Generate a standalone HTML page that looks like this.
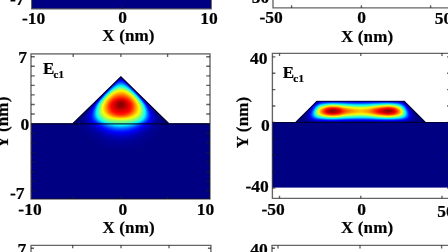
<!DOCTYPE html>
<html><head><meta charset="utf-8"><title>Ec1 wavefunction plots</title>
<style>html,body{margin:0;padding:0;background:#fff;overflow:hidden}svg{display:block}text{font-family:"Liberation Serif","Times New Roman",serif;font-weight:bold;fill:#000;stroke:#000;stroke-width:0.2px}</style></head><body>
<svg width="448" height="252" viewBox="0 0 448 252">
<defs>
<clipPath id="cT"><path d="M31.2,123.5H72.8L120.9,76.6L168.9,123.5H210.0V199.0H31.2Z"/></clipPath>
<clipPath id="cZ"><path d="M272.4,122.1H295.7L316.8,101H404.3L425.4,122.1H448V187.8H272.4Z"/></clipPath>
<filter id="bT" x="-5%" y="-5%" width="110%" height="110%"><feGaussianBlur stdDeviation="0.70"/></filter>
<filter id="bZ" x="-5%" y="-5%" width="110%" height="110%"><feGaussianBlur stdDeviation="0.60"/></filter>
<filter id="bX" x="-2%" y="-2%" width="104%" height="104%"><feGaussianBlur stdDeviation="0.3"/></filter>
</defs>
<rect width="448" height="252" fill="#fff"/>
<rect x="31.9" y="0" width="179.2" height="8.6" fill="#000083"/>
<g clip-path="url(#cT)">
<rect x="31" y="60" width="181" height="140" fill="#000083"/>
<g filter="url(#bT)">
<rect x="35" y="60" width="172" height="130" fill="#000083"/>
<path fill="#00008b" d="M124.5,150.0L121.5,150.2L118.5,150.1L115.0,149.8L112.0,149.3L109.0,148.6L106.0,147.7L103.5,146.8L100.5,145.4L98.5,144.3L96.0,142.8L93.5,141.0L91.0,139.1L89.5,137.8L87.5,135.9L81.2,129.5L79.6,128.0L77.9,126.5L78.0,126.0L78.1,125.5L78.4,125.0L78.9,124.5L79.8,124.0L81.2,123.5L80.7,123.0L80.6,122.0L80.8,121.0L81.3,119.5L81.7,118.5L82.6,117.0L83.7,115.5L85.1,113.5L90.7,106.5L92.0,105.0L114.0,83.1L116.0,81.3L117.5,80.0L120.0,77.7L120.5,77.4L121.0,77.3L122.0,77.8L123.0,78.7L132.0,87.5L133.0,88.3L135.0,90.2L143.4,98.5L150.3,105.5L151.0,106.5L152.7,108.5L156.3,113.0L157.8,115.0L159.2,117.0L160.3,119.0L160.7,120.0L161.0,121.0L161.2,122.0L161.1,123.0L160.6,123.5L162.0,124.0L162.9,124.5L163.4,125.0L163.7,125.5L163.8,126.0L163.9,126.5L161.1,129.0L155.0,135.2L152.0,138.0L150.0,139.7L148.0,141.3L146.0,142.7L144.0,143.9L141.5,145.3L139.5,146.2L137.0,147.3L134.5,148.1L132.0,148.8L129.5,149.4L127.0,149.8L124.5,150.0Z"/>
<path fill="#000091" d="M127.0,145.5L124.5,145.8L121.5,146.0L118.5,145.9L115.5,145.6L113.0,145.3L110.0,144.6L107.0,143.7L104.0,142.6L102.0,141.7L99.5,140.3L97.0,138.8L94.5,137.1L91.0,134.3L85.2,129.0L82.2,126.5L82.2,125.5L82.4,125.0L82.6,124.5L82.9,124.0L83.4,123.5L83.0,123.0L82.8,122.5L82.7,122.0L82.6,121.0L82.8,119.5L83.2,118.0L84.2,116.0L85.8,113.5L87.2,111.5L90.3,107.5L92.3,105.0L104.7,92.5L111.5,85.7L119.0,78.7L119.5,78.3L120.5,77.7L121.0,77.7L121.5,77.8L122.0,78.1L123.0,78.9L125.5,81.2L139.0,94.4L149.5,105.0L154.3,111.0L156.7,114.5L157.6,116.0L158.4,117.5L158.9,119.0L159.2,120.5L159.2,121.5L159.0,122.5L158.8,123.0L158.4,123.5L158.9,124.0L159.2,124.5L159.4,125.0L159.6,125.5L159.6,126.5L156.6,129.0L151.5,133.7L148.5,136.2L145.5,138.3L143.5,139.6L141.5,140.8L138.5,142.3L136.0,143.3L133.0,144.3L129.5,145.1L127.0,145.5Z"/>
<path fill="#000097" d="M125.0,143.5L122.0,143.7L118.5,143.6L115.0,143.3L112.0,142.8L108.5,141.9L105.5,140.8L103.0,139.7L100.0,138.2L97.0,136.3L94.0,134.2L91.5,132.1L87.2,128.5L84.7,126.5L84.6,125.0L84.7,124.0L85.0,123.5L84.5,123.0L84.1,122.0L83.9,121.5L83.8,120.5L83.9,119.0L84.3,117.5L84.9,116.0L85.7,114.5L86.9,112.5L88.3,110.5L90.1,108.0L92.5,105.0L103.8,93.5L111.5,85.9L117.0,80.7L118.5,79.3L120.0,78.2L120.5,78.0L121.0,78.0L121.5,78.1L122.5,78.7L124.5,80.4L126.0,81.7L139.0,94.5L149.3,105.0L153.1,110.0L154.9,112.5L155.8,114.0L156.6,115.5L157.3,117.0L157.8,118.5L158.0,120.0L158.0,121.0L157.7,122.0L157.3,123.0L156.8,123.5L157.0,124.0L157.2,125.0L157.1,126.5L154.0,129.0L149.5,132.8L146.5,135.1L144.0,136.8L141.5,138.3L139.0,139.6L136.5,140.7L133.5,141.8L130.5,142.6L127.5,143.2L125.0,143.5Z"/>
<path fill="#00009d" d="M123.5,142.0L120.5,142.1L117.5,142.0L115.0,141.7L112.0,141.2L109.0,140.4L106.0,139.4L103.5,138.3L100.5,136.8L98.0,135.2L95.0,133.2L86.5,126.5L86.2,125.0L86.1,123.5L85.7,123.0L85.1,122.0L84.8,121.0L84.7,120.0L84.7,119.0L85.0,117.5L85.5,116.0L86.2,114.5L87.3,112.5L88.6,110.5L90.8,107.5L92.7,105.0L98.0,99.5L105.3,92.0L109.5,87.9L115.5,82.1L117.5,80.3L119.0,79.1L120.0,78.4L120.5,78.3L121.0,78.2L121.5,78.3L122.0,78.5L123.0,79.2L125.0,80.9L127.0,82.8L133.9,89.5L139.4,95.0L145.3,101.0L149.1,105.0L152.8,110.0L154.2,112.0L155.3,114.0L156.1,115.5L156.6,117.0L156.9,118.0L157.1,119.5L157.1,120.5L156.9,121.5L156.4,122.5L156.1,123.0L155.7,123.5L155.6,125.0L155.3,126.5L152.7,128.5L148.0,132.3L144.5,134.8L142.0,136.3L139.5,137.7L137.0,138.9L134.5,139.8L131.5,140.7L129.0,141.3L126.5,141.7L123.5,142.0Z"/>
<path fill="#0000a3" d="M126.0,140.6L123.0,140.8L119.5,140.9L116.5,140.6L113.5,140.2L110.5,139.5L107.5,138.6L105.0,137.7L102.0,136.2L99.5,134.8L96.5,132.9L94.5,131.4L88.0,126.5L87.1,123.5L86.5,122.8L86.0,122.0L85.6,121.0L85.5,120.0L85.5,118.5L85.8,117.0L86.2,115.5L86.9,114.0L87.7,112.5L89.3,110.0L90.7,108.0L92.9,105.0L97.1,100.5L104.4,93.0L108.5,89.0L115.0,82.7L117.5,80.4L119.0,79.2L120.0,78.6L120.5,78.5L121.0,78.4L121.5,78.5L122.0,78.7L123.0,79.4L124.5,80.6L127.5,83.3L133.8,89.5L139.3,95.0L144.7,100.5L148.9,105.0L152.2,109.5L153.2,111.0L154.4,113.0L155.1,114.5L155.7,116.0L156.2,117.5L156.3,118.5L156.3,120.0L156.2,121.0L155.8,122.0L155.5,122.5L154.7,123.5L153.8,126.5L147.0,131.7L144.0,133.8L141.5,135.3L139.0,136.7L136.5,137.8L134.0,138.7L131.0,139.6L128.5,140.2L126.0,140.6Z"/>
<path fill="#0000aa" d="M126.0,139.5L123.0,139.8L120.0,139.9L117.0,139.7L114.0,139.3L111.0,138.6L108.0,137.8L105.5,136.8L103.0,135.7L100.5,134.3L98.0,132.8L95.0,130.7L89.2,126.5L88.0,123.5L87.1,122.5L86.5,121.5L86.2,120.5L86.1,119.5L86.1,118.5L86.3,117.0L86.7,115.5L87.6,113.5L88.6,111.5L89.9,109.5L91.2,107.5L93.1,105.0L96.8,101.0L102.6,95.0L107.5,90.0L113.0,84.7L116.0,81.8L118.0,80.1L119.5,79.0L120.0,78.8L120.5,78.6L121.0,78.6L121.5,78.7L122.5,79.2L124.0,80.3L127.0,82.9L132.8,88.5L138.8,94.5L144.1,100.0L148.7,105.0L151.6,109.0L152.9,111.0L153.7,112.5L154.7,114.5L155.3,116.0L155.6,117.5L155.7,118.5L155.7,120.0L155.4,121.0L155.3,121.5L154.7,122.5L153.8,123.5L152.6,126.5L146.0,131.3L144.0,132.7L141.5,134.2L139.0,135.6L136.5,136.7L134.0,137.7L131.5,138.5L128.5,139.1L126.0,139.5Z"/>
<path fill="#0000b0" d="M127.0,138.5L124.5,138.8L121.5,139.0L118.5,138.9L115.5,138.6L112.5,138.1L109.5,137.3L106.5,136.3L104.0,135.3L101.0,133.7L98.5,132.2L95.5,130.2L90.3,126.5L89.1,124.0L88.8,123.5L87.8,122.5L87.2,121.5L86.8,120.5L86.6,119.5L86.6,118.0L86.9,116.5L87.3,115.0L87.9,113.5L88.7,112.0L89.8,110.0L91.1,108.0L93.2,105.0L97.4,100.5L102.1,95.5L107.1,90.5L112.5,85.2L116.0,81.9L118.0,80.2L119.5,79.2L120.5,78.8L121.0,78.8L121.5,78.9L122.5,79.3L123.0,79.6L125.0,81.2L127.5,83.5L132.7,88.5L138.2,94.0L144.0,100.0L148.1,104.5L148.9,105.5L150.7,108.0L152.3,110.5L153.1,112.0L154.1,114.0L154.7,115.5L155.0,117.0L155.2,118.0L155.2,119.0L155.1,120.0L154.8,121.0L154.6,121.5L154.0,122.5L153.0,123.5L152.7,124.0L151.5,126.5L150.8,127.0L145.5,130.8L143.5,132.1L141.0,133.6L138.5,134.9L135.5,136.2L133.0,137.1L130.0,138.0L127.0,138.5Z"/>
<path fill="#0000b6" d="M125.0,138.0L122.0,138.2L119.0,138.2L116.0,137.9L113.5,137.6L110.5,136.9L108.0,136.1L105.5,135.1L102.5,133.7L100.0,132.3L98.0,131.1L91.3,126.5L89.9,124.0L89.5,123.5L88.5,122.5L87.8,121.5L87.4,120.5L87.2,120.0L87.1,119.0L87.1,118.0L87.3,116.5L87.7,115.0L88.2,113.5L89.2,111.5L90.4,109.5L91.7,107.5L93.4,105.0L96.5,101.5L102.2,95.5L107.1,90.5L112.5,85.2L115.5,82.4L118.0,80.3L119.5,79.3L120.0,79.1L120.5,79.0L121.0,79.0L121.5,79.0L122.0,79.2L123.0,79.7L125.0,81.3L127.5,83.5L132.6,88.5L138.1,94.0L143.9,100.0L148.0,104.5L148.8,105.5L150.8,108.5L151.7,110.0L152.8,112.0L153.5,113.5L154.1,115.0L154.5,116.5L154.7,118.0L154.7,119.0L154.5,120.0L154.2,121.0L154.0,121.5L153.3,122.5L152.3,123.5L151.9,124.0L150.5,126.5L145.0,130.3L142.5,131.9L140.0,133.4L137.5,134.6L135.0,135.7L133.0,136.4L130.0,137.2L127.5,137.7L125.0,138.0Z"/>
<path fill="#0000bc" d="M123.0,137.5L120.5,137.6L117.5,137.4L115.0,137.1L112.5,136.7L110.0,136.0L107.5,135.2L105.0,134.2L102.0,132.8L98.5,130.7L92.2,126.5L91.3,125.0L90.6,124.0L89.1,122.5L88.4,121.5L88.1,121.0L87.7,120.0L87.5,118.5L87.5,117.5L87.8,116.0L88.2,114.5L88.8,113.0L89.7,111.0L90.6,109.5L91.9,107.5L93.6,105.0L97.1,101.0L102.8,95.0L108.2,89.5L113.5,84.3L116.5,81.6L118.5,80.1L119.0,79.7L120.0,79.3L120.5,79.1L121.0,79.1L121.5,79.2L122.0,79.3L122.5,79.6L123.5,80.2L125.5,81.8L129.0,85.0L134.1,90.0L139.0,95.0L144.2,100.5L148.2,105.0L150.9,109.0L151.8,110.5L152.8,112.5L153.4,114.0L153.9,115.5L154.2,117.0L154.3,118.0L154.2,119.0L154.1,120.0L153.7,121.0L153.4,121.5L152.7,122.5L151.2,124.0L150.5,125.0L149.6,126.5L143.0,130.9L140.5,132.4L138.0,133.7L135.5,134.8L133.0,135.7L130.5,136.4L128.0,136.9L125.5,137.3L123.0,137.5Z"/>
<path fill="#0000c2" d="M126.5,136.6L123.5,136.9L120.5,137.0L117.5,136.8L115.0,136.5L112.5,136.1L109.5,135.3L106.5,134.2L104.0,133.1L102.0,132.1L99.5,130.7L93.0,126.5L92.0,125.0L91.2,124.0L89.6,122.5L88.9,121.5L88.6,121.0L88.2,120.0L87.9,118.5L88.0,117.0L88.2,115.5L88.7,114.0L89.3,112.5L90.3,110.5L91.1,109.0L92.4,107.0L93.7,105.0L97.2,101.0L102.4,95.5L107.3,90.5L112.0,85.8L115.0,83.0L117.5,80.9L119.0,79.8L120.0,79.4L120.5,79.3L121.0,79.2L121.5,79.3L122.5,79.7L123.0,80.0L124.5,81.0L127.0,83.2L131.5,87.5L136.5,92.5L142.3,98.5L146.4,103.0L148.1,105.0L148.8,106.0L150.7,109.0L151.8,111.0L152.5,112.5L153.1,114.0L153.6,115.5L153.8,117.0L153.9,118.0L153.8,119.0L153.6,120.0L153.2,121.0L152.6,122.0L152.2,122.5L151.1,123.5L150.2,124.5L148.8,126.5L144.5,129.3L142.0,130.9L139.5,132.3L137.5,133.3L135.0,134.3L132.0,135.4L129.0,136.1L126.5,136.6Z"/>
<path fill="#0000c8" d="M126.5,136.0L124.0,136.3L121.0,136.4L118.0,136.3L115.5,136.0L113.0,135.6L110.0,134.9L107.0,133.8L104.5,132.8L102.5,131.8L100.5,130.7L98.0,129.2L93.7,126.5L92.3,124.5L91.8,124.0L90.2,122.5L89.3,121.5L89.1,121.0L88.6,120.0L88.3,118.5L88.3,117.5L88.5,116.0L88.8,114.5L89.3,113.0L90.2,111.0L91.3,109.0L92.2,107.5L93.9,105.0L97.4,101.0L102.5,95.5L107.3,90.5L112.0,85.9L115.0,83.1L117.5,81.0L119.0,80.0L119.5,79.7L120.5,79.4L121.0,79.4L121.5,79.5L122.0,79.6L123.0,80.1L124.5,81.1L127.0,83.3L131.5,87.5L136.0,92.0L141.2,97.5L145.8,102.5L147.9,105.0L149.6,107.5L151.0,110.0L151.8,111.5L152.7,113.5L153.1,115.0L153.4,116.5L153.5,118.0L153.4,119.0L153.2,120.0L152.7,121.0L152.1,122.0L151.6,122.5L150.0,124.0L149.5,124.5L148.1,126.5L144.5,128.8L141.5,130.6L138.5,132.2L136.5,133.1L134.0,134.1L131.5,134.9L129.0,135.6L126.5,136.0Z"/>
<path fill="#0000ce" d="M126.5,135.5L124.0,135.8L121.0,135.9L118.0,135.8L115.5,135.5L113.0,135.1L110.0,134.3L107.0,133.3L104.5,132.3L102.5,131.3L100.5,130.2L94.5,126.5L92.9,124.5L92.4,124.0L90.6,122.5L89.8,121.5L89.2,120.5L89.0,120.0L88.7,118.5L88.7,117.0L88.9,115.5L89.2,114.0L89.8,112.5L90.7,110.5L91.8,108.5L93.7,105.5L94.4,104.5L97.9,100.5L103.0,95.0L107.4,90.5L112.0,85.9L115.5,82.7L117.5,81.1L119.0,80.1L120.0,79.7L120.5,79.6L121.0,79.5L121.5,79.6L122.0,79.7L123.0,80.2L124.5,81.2L127.0,83.3L130.9,87.0L135.4,91.5L140.7,97.0L145.2,102.0L147.8,105.0L149.7,108.0L150.8,110.0L151.8,112.0L152.4,113.5L152.8,115.0L153.1,116.5L153.1,118.0L153.0,119.0L152.8,120.0L152.3,121.0L151.6,122.0L151.2,122.5L149.4,124.0L148.9,124.5L147.3,126.5L143.5,128.9L141.0,130.4L138.5,131.7L136.5,132.6L134.0,133.6L131.5,134.4L129.0,135.1L126.5,135.5Z"/>
<path fill="#0000d4" d="M126.5,135.0L124.0,135.3L121.5,135.4L118.5,135.4L116.0,135.1L113.5,134.7L111.0,134.1L108.0,133.2L105.5,132.2L103.5,131.3L101.5,130.3L99.0,128.8L95.2,126.5L93.4,124.5L92.9,124.0L91.1,122.5L90.2,121.5L89.9,121.0L89.4,120.0L89.3,119.5L89.1,118.5L89.0,117.5L89.1,116.0L89.4,114.5L89.8,113.0L90.7,111.0L91.7,109.0L92.9,107.0L94.2,105.0L97.1,101.5L101.7,96.5L106.5,91.5L111.5,86.5L115.0,83.2L117.5,81.2L119.0,80.2L120.0,79.8L120.5,79.7L121.5,79.7L122.0,79.8L123.0,80.3L124.5,81.3L127.0,83.4L130.8,87.0L135.3,91.5L140.1,96.5L144.7,101.5L147.6,105.0L149.2,107.5L150.4,109.5L151.4,111.5L152.1,113.5L152.6,115.0L152.8,116.5L152.8,118.0L152.7,119.0L152.4,120.0L151.9,121.0L151.6,121.5L151.0,122.2L150.5,122.7L148.9,124.0L148.4,124.5L146.6,126.5L143.0,128.7L140.5,130.2L138.5,131.2L136.0,132.4L133.5,133.3L131.0,134.1L128.5,134.7L126.5,135.0Z"/>
<path fill="#0000da" d="M121.5,135.0L118.5,134.9L116.0,134.7L113.5,134.3L111.0,133.7L108.0,132.8L105.5,131.8L103.0,130.6L100.5,129.3L95.8,126.5L94.0,124.5L93.5,124.0L91.6,122.5L91.1,122.0L90.3,121.0L89.8,120.0L89.4,118.5L89.3,117.0L89.4,115.5L89.8,114.0L90.2,112.5L91.1,110.5L92.7,107.5L94.3,105.0L96.4,102.5L100.4,98.0L105.6,92.5L110.0,88.0L113.5,84.7L116.0,82.4L118.0,80.9L119.0,80.3L119.5,80.1L120.5,79.8L121.0,79.8L121.5,79.8L122.5,80.2L124.0,81.0L126.0,82.6L128.5,84.8L132.8,89.0L137.2,93.5L142.3,99.0L145.9,103.0L147.5,105.0L147.8,105.5L149.4,108.0L150.7,110.5L151.4,112.0L152.0,114.0L152.4,115.5L152.5,117.0L152.4,118.5L152.2,119.5L151.8,120.5L151.5,121.0L150.7,122.0L150.2,122.5L148.3,124.0L147.8,124.5L146.0,126.5L143.0,128.3L140.5,129.7L137.5,131.2L135.0,132.3L132.5,133.2L130.0,133.9L127.0,134.5L124.5,134.8L121.5,135.0Z"/>
<path fill="#0000e0" d="M123.5,134.5L121.0,134.6L118.0,134.5L115.5,134.2L113.0,133.8L110.5,133.1L108.0,132.3L105.5,131.4L103.0,130.2L100.5,128.9L96.4,126.5L94.5,124.5L93.9,124.0L92.0,122.5L91.0,121.5L90.4,120.5L90.1,120.0L89.8,119.0L89.6,117.5L89.6,116.0L89.9,114.5L90.3,113.0L90.9,111.5L91.8,109.5L93.2,107.0L94.4,105.0L95.6,103.5L98.7,100.0L103.7,94.5L108.1,90.0L112.0,86.1L115.5,82.9L117.5,81.3L119.0,80.4L120.0,80.0L120.5,79.9L121.0,79.9L122.0,80.1L122.5,80.3L123.5,80.8L125.0,81.9L127.5,84.0L131.2,87.5L135.7,92.0L140.9,97.5L144.9,102.0L147.4,105.0L149.2,108.0L150.3,110.0L151.1,112.0L151.7,113.5L152.0,115.0L152.2,116.5L152.2,118.0L152.0,119.0L151.7,120.0L151.0,121.2L150.3,122.0L149.8,122.5L147.9,124.0L146.8,125.0L145.4,126.5L145.0,126.7L141.5,128.7L138.5,130.3L136.5,131.3L134.0,132.3L131.5,133.1L129.0,133.7L126.0,134.3L123.5,134.5Z"/>
<path fill="#0000e7" d="M124.5,134.0L122.0,134.2L119.5,134.2L116.5,134.0L114.0,133.6L111.5,133.0L109.0,132.3L106.5,131.4L104.0,130.3L101.0,128.8L97.0,126.5L95.0,124.5L92.4,122.5L91.4,121.5L90.7,120.5L90.3,119.5L90.1,119.0L89.9,117.5L89.9,116.0L90.1,114.5L90.7,112.5L91.3,111.0L92.2,109.0L93.6,106.5L94.6,105.0L95.8,103.5L99.2,99.5L103.8,94.5L108.1,90.0L112.2,86.0L115.5,83.0L117.5,81.4L119.0,80.5L120.0,80.2L120.5,80.1L121.0,80.0L122.0,80.2L122.5,80.4L123.5,80.9L125.5,82.3L128.0,84.5L131.7,88.0L135.6,92.0L140.3,97.0L143.9,101.0L147.2,105.0L149.3,108.5L150.3,110.5L151.1,112.5L151.7,114.5L151.9,116.0L151.9,117.5L151.8,118.5L151.3,120.0L150.8,121.0L150.0,121.9L149.5,122.4L146.8,124.5L144.8,126.5L141.5,128.4L139.0,129.7L136.5,130.9L134.5,131.7L132.0,132.5L129.5,133.2L127.0,133.7L124.5,134.0Z"/>
<path fill="#0000ed" d="M125.5,133.6L123.0,133.8L120.0,133.8L117.5,133.7L115.0,133.4L112.5,132.9L110.0,132.2L107.0,131.2L104.5,130.1L101.5,128.7L97.6,126.5L95.5,124.5L92.5,122.3L91.5,121.2L90.8,120.0L90.4,119.0L90.2,117.5L90.1,116.0L90.3,114.5L90.7,113.0L91.2,111.5L92.1,109.5L93.2,107.5L94.7,105.0L95.9,103.5L99.3,99.5L103.9,94.5L108.2,90.0L112.3,86.0L115.0,83.5L117.5,81.5L119.0,80.6L120.0,80.3L120.5,80.2L121.0,80.2L122.0,80.3L122.5,80.5L123.5,81.0L125.5,82.4L127.5,84.1L130.6,87.0L134.6,91.0L139.3,96.0L143.4,100.5L145.1,102.5L147.1,105.0L148.9,108.0L149.9,110.0L150.7,112.0L151.3,114.0L151.6,115.5L151.7,117.0L151.5,118.5L151.2,119.5L151.0,120.0L150.4,121.0L149.6,122.0L149.0,122.5L146.3,124.5L144.2,126.5L142.0,127.7L139.0,129.3L137.0,130.3L134.5,131.3L132.0,132.2L130.0,132.7L127.5,133.3L125.5,133.6Z"/>
<path fill="#0000f3" d="M126.5,133.1L124.0,133.4L121.5,133.5L118.5,133.4L116.0,133.2L113.5,132.8L111.0,132.2L108.0,131.2L105.5,130.2L102.5,128.8L98.2,126.5L96.0,124.5L93.0,122.4L92.0,121.4L91.5,120.7L91.1,120.0L90.7,119.0L90.4,117.5L90.4,116.0L90.6,114.5L90.9,113.0L91.6,111.0L92.8,108.5L94.2,106.0L94.8,105.0L96.4,103.0L99.8,99.0L104.4,94.0L108.8,89.5L112.5,85.9L115.0,83.6L116.5,82.4L117.5,81.6L119.0,80.8L120.0,80.4L120.5,80.3L121.0,80.3L122.0,80.5L122.5,80.6L123.5,81.1L125.5,82.5L127.5,84.2L130.5,87.0L134.5,91.0L138.8,95.5L142.9,100.0L145.4,103.0L147.0,105.0L148.7,108.0L149.7,110.0L150.5,112.0L151.1,114.0L151.4,115.5L151.4,117.0L151.2,118.5L150.7,120.0L150.1,121.0L149.5,121.7L148.6,122.5L145.8,124.5L143.6,126.5L141.5,127.7L138.5,129.2L135.0,130.8L132.5,131.7L130.5,132.3L128.5,132.7L126.5,133.1Z"/>
<path fill="#0000f9" d="M124.0,133.0L121.5,133.2L119.0,133.1L116.0,132.9L113.5,132.4L110.5,131.7L108.0,130.9L105.5,129.9L103.0,128.7L98.7,126.5L96.4,124.5L93.5,122.5L92.9,122.0L92.0,121.0L91.4,120.0L91.2,119.5L90.9,118.5L90.6,117.0L90.7,115.5L90.9,114.0L91.4,112.0L92.2,110.0L93.2,108.0L94.9,105.0L96.9,102.5L100.4,98.5L105.0,93.5L109.3,89.0L113.0,85.4L115.5,83.2L117.5,81.7L119.0,80.9L120.0,80.5L120.5,80.4L121.5,80.5L122.0,80.6L123.0,81.0L123.5,81.2L124.5,81.9L125.5,82.6L127.5,84.3L130.5,87.0L134.4,91.0L138.7,95.5L142.8,100.0L145.3,103.0L146.9,105.0L148.3,107.5L149.6,110.0L150.4,112.0L150.9,114.0L151.1,115.5L151.2,117.0L150.9,118.5L150.6,119.5L150.4,120.0L149.8,121.0L149.4,121.5L148.5,122.3L145.4,124.5L143.1,126.5L140.0,128.1L137.5,129.4L135.5,130.2L133.0,131.2L131.0,131.8L128.5,132.4L126.5,132.8L124.0,133.0Z"/>
<path fill="#0000ff" d="M126.0,132.5L123.5,132.8L121.0,132.9L118.0,132.7L115.5,132.5L112.5,131.9L110.0,131.2L107.5,130.4L105.0,129.4L102.5,128.2L99.3,126.5L96.8,124.5L94.0,122.6L93.3,122.0L92.4,121.0L91.7,120.0L91.1,118.5L90.9,117.0L90.9,115.5L91.1,114.0L91.6,112.0L92.2,110.5L93.4,108.0L94.8,105.5L95.1,105.0L96.6,103.0L99.6,99.5L104.6,94.0L108.9,89.5L112.5,86.0L115.5,83.3L116.5,82.5L117.5,81.8L119.0,81.0L120.0,80.7L120.5,80.6L121.5,80.6L122.0,80.7L123.0,81.1L124.5,82.0L126.0,83.1L127.0,83.9L130.0,86.6L133.9,90.5L138.2,95.0L142.2,99.5L144.4,102.0L146.4,104.5L146.7,105.0L147.9,107.0L148.9,109.0L149.8,111.0L150.5,113.0L150.9,115.0L150.9,116.0L150.9,117.0L150.7,118.5L150.3,119.5L150.1,120.0L149.4,121.0L149.0,121.5L148.0,122.4L145.0,124.5L142.5,126.5L141.0,127.3L138.0,128.8L136.0,129.7L133.5,130.7L131.5,131.3L130.0,131.7L128.0,132.2L126.0,132.5Z"/>
<path fill="#0006ff" d="M122.5,132.5L120.0,132.5L117.0,132.4L114.0,131.9L111.5,131.4L109.0,130.6L106.5,129.7L104.0,128.6L101.0,127.2L99.8,126.5L97.3,124.5L94.2,122.5L93.1,121.5L92.3,120.5L91.8,119.5L91.3,118.0L91.1,116.5L91.1,115.0L91.4,113.5L92.0,111.5L92.8,109.5L93.7,107.5L95.2,105.0L97.9,101.5L101.4,97.5L106.1,92.5L110.0,88.5L113.5,85.1L116.0,83.0L118.0,81.6L119.0,81.1L119.5,80.9L120.5,80.7L121.0,80.7L121.5,80.7L122.5,81.0L124.0,81.7L126.0,83.2L128.5,85.3L132.0,88.7L135.7,92.5L140.4,97.5L143.9,101.5L146.6,105.0L147.8,107.0L148.8,109.0L149.7,111.0L150.3,113.0L150.6,114.5L150.7,116.0L150.6,117.5L150.4,118.5L150.2,119.0L149.8,120.0L149.1,121.0L148.5,121.7L147.6,122.5L144.5,124.5L142.0,126.5L139.5,127.8L136.5,129.2L134.0,130.2L132.0,130.9L129.5,131.5L127.0,132.1L125.0,132.3L122.5,132.5Z"/>
<path fill="#000cff" d="M125.0,132.0L122.5,132.2L120.0,132.3L117.5,132.1L115.0,131.8L112.5,131.3L110.0,130.6L107.5,129.8L105.0,128.8L102.5,127.6L100.3,126.5L97.7,124.5L95.0,122.8L93.9,122.0L93.0,121.0L92.3,120.0L91.6,118.5L91.3,117.0L91.3,115.5L91.6,113.5L92.1,111.5L92.7,110.0L93.6,108.0L95.3,105.0L97.2,102.5L100.2,99.0L104.7,94.0L109.0,89.5L112.5,86.1L115.5,83.5L117.5,82.0L119.0,81.2L119.5,81.0L120.5,80.8L121.0,80.8L122.0,81.0L122.5,81.1L123.5,81.6L125.0,82.5L127.5,84.5L130.5,87.3L133.7,90.5L137.5,94.5L141.6,99.0L143.8,101.5L145.8,104.0L146.5,105.0L147.4,106.5L148.7,109.0L149.7,111.5L150.2,113.5L150.5,115.0L150.5,116.0L150.4,117.0L150.2,118.5L149.8,119.5L149.5,120.0L148.8,121.0L148.0,121.9L147.2,122.5L144.1,124.5L141.5,126.5L140.0,127.3L137.0,128.7L134.5,129.7L133.0,130.3L131.0,130.9L129.0,131.4L127.0,131.8L125.0,132.0Z"/>
<path fill="#0012ff" d="M126.5,131.6L124.0,131.9L121.5,132.0L118.5,131.9L116.0,131.7L113.5,131.2L111.0,130.6L108.0,129.7L105.5,128.7L102.5,127.4L100.8,126.5L98.1,124.5L95.0,122.6L94.2,122.0L93.2,121.0L92.5,119.9L91.9,118.5L91.6,117.0L91.5,115.5L91.7,114.0L92.1,112.0L92.6,110.5L93.7,108.0L95.1,105.5L95.8,104.5L97.3,102.5L100.7,98.5L104.8,94.0L109.0,89.6L112.5,86.2L115.0,84.0L116.5,82.8L117.5,82.1L119.0,81.4L120.0,81.0L120.5,81.0L121.0,80.9L122.0,81.1L122.5,81.2L123.5,81.7L125.0,82.6L127.0,84.2L130.0,86.9L133.0,89.8L136.5,93.5L140.7,98.0L144.1,102.0L145.7,104.0L146.7,105.5L148.3,108.5L149.2,110.5L149.8,112.5L150.2,114.5L150.3,116.0L150.2,117.0L150.0,118.0L149.7,119.0L149.3,120.0L148.6,121.0L147.6,122.0L146.9,122.5L143.7,124.5L141.0,126.5L137.5,128.2L135.0,129.2L132.0,130.3L129.0,131.1L126.5,131.6Z"/>
<path fill="#0018ff" d="M124.5,131.5L122.0,131.7L119.5,131.7L116.5,131.5L114.0,131.1L111.5,130.5L109.0,129.8L106.0,128.7L103.0,127.3L101.3,126.5L98.5,124.5L95.2,122.5L94.0,121.5L93.1,120.5L92.8,120.0L92.3,119.0L92.0,118.0L91.7,116.5L91.7,115.0L91.9,113.5L92.3,112.0L93.2,109.5L94.1,107.5L95.5,105.0L97.8,102.0L101.2,98.0L105.3,93.5L109.0,89.7L112.5,86.3L115.0,84.1L117.0,82.6L118.0,82.0L119.0,81.5L120.0,81.2L120.5,81.1L121.0,81.1L122.0,81.2L122.5,81.4L123.5,81.8L124.5,82.4L125.5,83.1L127.5,84.7L130.5,87.4L134.0,90.9L138.3,95.5L141.9,99.5L145.2,103.5L146.3,105.0L147.2,106.5L148.2,108.5L149.2,111.0L149.8,113.0L150.1,115.0L150.1,116.0L150.0,117.0L149.7,118.5L149.3,119.5L149.0,120.0L148.3,121.0L147.5,121.8L146.6,122.5L143.3,124.5L140.5,126.5L136.5,128.4L134.5,129.2L132.5,129.9L130.5,130.5L128.5,130.9L126.5,131.3L124.5,131.5Z"/>
<path fill="#001eff" d="M126.5,131.0L124.0,131.3L121.5,131.5L119.0,131.4L116.5,131.2L114.0,130.8L111.5,130.3L108.5,129.3L106.0,128.4L103.5,127.3L101.8,126.5L98.9,124.5L96.0,122.8L94.8,122.0L93.8,121.0L93.0,119.9L92.4,118.5L92.0,117.0L91.9,115.5L92.1,113.5L92.6,111.5L93.1,110.0L94.2,107.5L95.6,105.0L97.9,102.0L101.3,98.0L105.4,93.5L109.0,89.8L112.5,86.4L115.0,84.2L117.0,82.7L118.0,82.1L119.0,81.6L120.0,81.3L120.5,81.2L121.0,81.2L122.0,81.3L122.5,81.5L123.5,81.9L125.0,82.8L127.0,84.3L129.5,86.5L132.5,89.5L136.0,93.1L139.6,97.0L143.1,101.0L144.7,103.0L146.2,105.0L147.8,108.0L148.7,110.0L149.4,112.0L149.8,114.0L149.9,115.5L149.9,116.5L149.6,118.0L149.3,119.0L148.7,120.0L148.0,121.0L147.5,121.5L146.5,122.3L142.9,124.5L140.0,126.5L137.5,127.7L135.0,128.7L132.0,129.8L129.0,130.6L126.5,131.0Z"/>
<path fill="#0021ff" d="M126.0,131.0L123.5,131.3L120.5,131.4L118.0,131.3L115.5,131.0L112.5,130.4L110.0,129.7L107.5,128.9L105.0,127.9L101.9,126.5L99.0,124.5L95.6,122.5L94.5,121.6L93.5,120.5L92.9,119.5L92.3,118.0L92.0,116.5L92.0,115.0L92.2,113.0L92.8,111.0L93.4,109.5L94.3,107.5L95.6,105.0L96.7,103.5L98.3,101.5L101.8,97.5L105.9,93.0L109.5,89.3L113.0,85.9L115.5,83.8L117.5,82.4L119.0,81.6L120.0,81.3L120.5,81.3L121.0,81.3L122.0,81.4L122.5,81.5L123.5,82.0L124.5,82.5L125.5,83.2L127.5,84.8L130.5,87.5L133.5,90.5L137.8,95.0L141.4,99.0L144.7,103.0L146.2,105.0L146.7,106.0L147.8,108.0L148.8,110.5L149.4,112.5L149.8,114.5L149.8,116.0L149.7,117.0L149.5,118.0L149.2,119.0L148.7,120.0L147.9,121.0L147.0,121.9L146.2,122.5L142.8,124.5L139.9,126.5L137.0,127.8L134.5,128.8L131.5,129.8L128.5,130.6L126.0,131.0Z"/>
<path fill="#0036ff" d="M122.5,130.5L120.0,130.5L117.5,130.4L115.5,130.2L113.0,129.7L111.0,129.2L108.5,128.4L106.5,127.7L103.6,126.5L99.5,124.0L96.7,122.5L95.5,121.6L94.8,121.0L94.0,120.0L93.7,119.5L93.2,118.5L92.7,117.0L92.6,115.5L92.6,114.0L93.0,112.0L93.6,110.0L94.4,108.0L96.0,105.0L97.8,102.5L99.4,100.5L102.9,96.5L106.5,92.6L110.0,89.1L113.0,86.2L115.5,84.1L117.5,82.8L119.0,82.1L120.0,81.8L120.5,81.7L121.0,81.7L122.0,81.8L122.5,82.0L123.5,82.4L124.5,82.9L125.5,83.6L127.5,85.1L130.0,87.3L133.0,90.3L136.6,94.0L140.7,98.5L142.8,101.0L144.4,103.0L145.8,105.0L146.4,106.0L147.6,108.5L148.4,110.5L148.9,112.5L149.2,114.5L149.2,116.0L149.1,117.0L148.8,118.0L148.4,119.0L147.8,120.0L147.0,121.0L146.0,121.9L145.1,122.5L142.3,124.0L138.2,126.5L136.5,127.2L134.0,128.2L131.0,129.1L128.5,129.8L125.5,130.3L122.5,130.5Z"/>
<path fill="#004cff" d="M125.5,129.5L123.0,129.7L120.5,129.8L118.0,129.7L115.5,129.4L113.0,128.9L110.5,128.3L108.5,127.7L105.5,126.6L104.0,125.9L100.6,124.0L98.0,122.7L96.9,122.0L96.0,121.3L95.0,120.3L94.1,119.0L93.5,117.5L93.2,116.0L93.1,114.5L93.3,112.5L93.7,111.0L94.3,109.0L95.2,107.0L96.2,105.0L97.3,103.5L98.8,101.5L101.8,98.0L106.0,93.4L110.0,89.3L113.0,86.5L115.0,84.9L117.0,83.5L118.0,82.9L119.0,82.5L120.0,82.2L120.5,82.2L121.0,82.2L122.0,82.3L123.5,82.8L125.0,83.6L127.0,85.0L129.5,87.1L132.0,89.5L135.5,93.1L139.1,97.0L142.6,101.0L144.1,103.0L145.5,105.0L146.8,107.5L147.6,109.5L148.3,111.5L148.6,113.5L148.7,115.0L148.6,116.0L148.3,117.5L147.9,118.5L147.4,119.5L146.6,120.5L146.0,121.2L144.9,122.0L144.0,122.6L141.2,124.0L138.0,125.8L136.5,126.5L135.5,126.9L133.0,127.8L130.0,128.7L127.5,129.2L125.5,129.5Z"/>
<path fill="#0061ff" d="M123.5,129.0L121.5,129.1L119.0,129.1L116.5,128.9L114.5,128.6L112.5,128.1L109.5,127.3L107.0,126.5L105.0,125.6L98.6,122.5L97.5,121.9L96.4,121.0L95.4,120.0L95.0,119.4L94.5,118.5L93.9,117.0L93.7,116.0L93.6,115.0L93.6,113.5L93.9,111.5L94.5,109.5L95.3,107.5L96.3,105.5L96.9,104.5L98.3,102.5L100.3,100.0L103.4,96.5L107.0,92.6L110.5,89.1L113.0,86.8L115.0,85.2L117.0,83.8L118.0,83.3L119.0,82.9L120.0,82.7L120.5,82.6L121.0,82.6L122.0,82.7L123.5,83.2L124.5,83.7L125.5,84.3L127.5,85.7L130.0,87.9L132.5,90.3L136.0,93.9L139.4,97.5L142.7,101.5L144.3,103.5L145.3,105.0L146.3,107.0L147.3,109.5L147.9,111.5L148.2,113.5L148.2,115.0L148.1,116.0L147.7,117.5L147.3,118.5L146.7,119.5L145.9,120.5L145.0,121.3L144.1,122.0L143.0,122.6L140.1,124.0L137.5,125.3L135.5,126.2L134.0,126.8L131.0,127.7L128.5,128.3L126.0,128.8L123.5,129.0Z"/>
<path fill="#0077ff" d="M126.5,128.1L124.5,128.3L122.0,128.5L119.5,128.5L117.0,128.3L114.5,127.9L112.0,127.4L109.5,126.7L107.0,125.9L105.5,125.2L99.5,122.5L98.0,121.7L97.1,121.0L96.0,119.9L95.5,119.2L95.1,118.5L94.4,117.0L94.1,115.5L94.0,114.0L94.2,112.0L94.7,110.0L95.2,108.5L95.8,107.0L96.8,105.0L98.2,103.0L99.7,101.0L102.7,97.5L106.0,93.9L109.5,90.4L112.5,87.6L114.5,85.9L116.5,84.5L117.5,84.0L118.5,83.5L120.0,83.1L121.0,83.0L121.5,83.1L123.0,83.4L124.5,84.1L126.0,85.0L128.0,86.5L130.5,88.7L133.5,91.5L136.5,94.6L139.1,97.5L141.7,100.5L143.6,103.0L145.0,105.0L146.0,107.0L146.8,109.0L147.4,111.0L147.7,112.5L147.8,114.0L147.7,115.0L147.5,116.5L147.2,117.5L146.7,118.5L146.0,119.6L145.2,120.5L144.0,121.5L143.0,122.2L142.0,122.7L136.5,125.1L134.0,126.2L132.5,126.7L130.5,127.2L128.5,127.7L126.5,128.1Z"/>
<path fill="#008dff" d="M126.0,127.6L124.0,127.8L121.5,127.9L119.0,127.9L116.5,127.6L114.0,127.3L111.5,126.7L109.5,126.2L107.0,125.3L100.3,122.5L99.0,121.8L97.8,121.0L96.7,120.0L96.3,119.5L95.6,118.5L94.9,117.0L94.6,115.5L94.4,114.0L94.6,112.0L94.9,110.5L95.5,108.5L96.3,106.5L97.1,105.0L98.4,103.0L99.9,101.0L102.9,97.5L106.0,94.1L109.5,90.6L112.5,87.9L114.5,86.3L116.5,84.9L117.5,84.4L118.5,83.9L120.0,83.6L121.5,83.5L123.0,83.8L124.5,84.5L126.0,85.3L128.0,86.8L130.5,88.9L133.0,91.3L136.0,94.3L138.9,97.5L141.1,100.0L143.0,102.5L144.4,104.5L145.2,106.0L146.3,108.5L146.9,110.5L147.2,112.0L147.4,113.5L147.3,115.0L147.0,116.5L146.7,117.5L146.2,118.5L145.5,119.5L144.6,120.5L143.5,121.4L142.5,122.0L141.0,122.7L136.0,124.8L133.5,125.8L132.0,126.2L130.0,126.8L128.0,127.2L126.0,127.6Z"/>
<path fill="#00a2ff" d="M126.0,127.0L123.5,127.3L120.5,127.4L118.0,127.3L115.0,126.9L112.0,126.3L109.5,125.6L107.0,124.8L103.0,123.3L101.1,122.5L99.5,121.7L98.5,121.0L97.4,120.0L96.5,119.0L96.0,118.2L95.6,117.5L95.2,116.5L94.9,115.0L94.8,113.5L95.0,111.5L95.4,110.0L96.0,108.0L96.6,106.5L97.3,105.0L98.6,103.0L100.5,100.5L103.5,97.0L106.5,93.8L109.5,90.9L112.5,88.2L114.5,86.6L116.5,85.3L117.5,84.8L118.5,84.4L120.0,84.0L121.5,84.0L123.0,84.3L124.5,84.9L126.5,86.0L128.5,87.5L130.5,89.2L133.0,91.5L136.0,94.6L138.7,97.5L140.9,100.0L142.8,102.5L144.2,104.5L145.0,106.0L146.0,108.5L146.6,110.5L146.8,112.0L147.0,113.5L146.9,114.5L146.7,116.0L146.4,117.0L145.9,118.0L145.3,119.0L144.4,120.0L143.3,121.0L142.0,121.8L140.7,122.5L137.5,123.8L133.5,125.2L131.5,125.9L129.5,126.4L127.5,126.8L126.0,127.0Z"/>
<path fill="#00b8ff" d="M126.0,126.5L123.5,126.8L120.5,126.9L117.5,126.7L115.0,126.4L112.0,125.8L109.5,125.1L107.0,124.3L102.5,122.7L100.9,122.0L99.5,121.2L98.5,120.5L97.5,119.5L96.7,118.5L96.1,117.5L95.7,116.5L95.4,115.0L95.2,113.5L95.4,111.5L95.8,109.5L96.5,107.5L97.3,105.5L97.9,104.5L99.2,102.5L100.7,100.5L103.0,97.8L106.0,94.6L109.0,91.6L112.0,88.9L114.5,86.9L116.5,85.7L117.5,85.2L118.5,84.8L120.0,84.4L121.5,84.4L123.0,84.7L124.5,85.3L126.5,86.4L128.5,87.8L130.5,89.5L133.0,91.8L135.5,94.3L138.1,97.0L140.2,99.5L142.2,102.0L143.6,104.0L144.5,105.5L145.5,108.0L146.1,110.0L146.4,111.5L146.6,113.0L146.5,114.5L146.2,116.0L145.9,117.0L145.4,118.0L144.7,119.0L143.8,120.0L142.6,121.0L141.5,121.7L139.8,122.5L136.5,123.7L133.5,124.8L130.0,125.7L128.0,126.2L126.0,126.5Z"/>
<path fill="#00cdff" d="M126.0,126.0L123.0,126.3L120.5,126.4L118.0,126.3L115.0,125.9L112.0,125.3L109.5,124.7L106.0,123.6L102.8,122.5L101.5,121.9L100.0,121.1L99.0,120.3L98.0,119.4L97.0,118.1L96.4,117.0L96.0,115.9L95.7,114.5L95.6,113.0L95.8,111.0L96.3,109.0L97.0,107.0L97.8,105.0L98.4,104.0L99.8,102.0L101.4,100.0L104.0,96.9L107.0,93.8L110.0,90.9L112.5,88.8L114.5,87.3L116.5,86.1L117.5,85.6L118.5,85.2L120.0,84.9L121.5,84.8L123.0,85.1L124.5,85.7L126.5,86.8L128.5,88.2L130.5,89.8L133.0,92.0L135.5,94.5L138.0,97.2L140.0,99.5L142.0,102.0L143.5,104.2L144.0,105.1L145.0,107.5L145.7,109.5L146.1,111.5L146.2,113.0L146.1,114.0L145.9,115.5L145.6,116.5L145.2,117.5L144.5,118.6L143.7,119.5L142.5,120.6L141.1,121.5L140.0,122.1L138.5,122.7L135.5,123.7L132.5,124.6L130.5,125.1L128.0,125.7L126.0,126.0Z"/>
<path fill="#00e3ff" d="M126.0,125.5L123.5,125.8L121.0,125.9L118.5,125.8L115.5,125.5L113.0,125.1L110.0,124.4L107.0,123.6L103.7,122.5L102.0,121.8L100.6,121.0L99.5,120.2L98.5,119.3L97.5,118.1L96.9,117.0L96.5,116.0L96.1,114.5L96.0,113.0L96.2,111.0L96.5,109.5L97.1,107.5L97.9,105.5L98.4,104.5L100.0,102.1L101.5,100.1L104.0,97.2L106.5,94.6L109.5,91.7L112.0,89.5L114.0,88.0L116.0,86.7L117.0,86.2L118.0,85.8L119.5,85.4L121.0,85.2L122.5,85.4L124.0,85.9L125.5,86.5L127.5,87.8L129.5,89.3L131.5,90.9L134.0,93.3L136.5,95.8L138.5,98.0L141.0,101.0L142.5,103.1L143.7,105.0L144.3,106.5L145.1,108.5L145.5,110.5L145.7,112.0L145.8,113.5L145.6,115.0L145.3,116.0L144.6,117.5L144.0,118.5L143.1,119.5L142.0,120.5L140.5,121.4L139.3,122.0L138.0,122.5L135.5,123.4L132.5,124.2L130.5,124.7L128.0,125.2L126.0,125.5Z"/>
<path fill="#00f9ff" d="M126.5,125.0L124.0,125.3L121.5,125.4L119.0,125.4L116.5,125.2L114.0,124.8L111.0,124.2L108.0,123.5L104.7,122.5L103.0,121.8L101.4,121.0L100.0,120.1L99.0,119.2L98.0,118.0L97.4,117.0L97.0,116.0L96.6,114.5L96.5,113.0L96.5,112.0L96.6,111.0L97.0,109.0L97.5,107.2L98.4,105.0L99.0,104.0L100.0,102.5L101.5,100.4L104.0,97.5L106.5,94.8L109.0,92.4L111.5,90.2L114.0,88.3L116.0,87.1L117.0,86.6L118.0,86.2L119.5,85.8L121.0,85.7L122.5,85.8L124.0,86.2L125.5,86.9L127.0,87.8L129.0,89.2L131.0,90.8L133.5,93.0L136.0,95.5L138.5,98.3L140.0,100.1L142.0,102.8L143.0,104.3L143.6,105.5L144.5,107.8L145.1,110.0L145.3,111.5L145.3,113.0L145.2,114.5L145.0,115.5L144.5,116.7L143.8,118.0L143.0,119.0L141.9,120.0L140.5,121.0L139.5,121.5L138.4,122.0L137.0,122.5L133.9,123.5L131.5,124.1L129.0,124.6L126.5,125.0Z"/>
<path fill="#0ffff0" d="M127.0,124.5L124.0,124.8L121.5,125.0L119.0,124.9L116.5,124.7L113.5,124.3L110.5,123.8L109.2,123.5L105.7,122.5L104.3,122.0L102.2,121.0L101.0,120.3L100.0,119.5L99.0,118.4L98.0,117.0L97.5,115.9L97.1,114.5L96.9,113.0L97.0,111.0L97.2,109.5L97.8,107.5L98.5,105.5L99.0,104.5L100.3,102.5L101.7,100.5L104.0,97.8L106.5,95.1L109.0,92.7L111.5,90.5L113.5,89.0L115.5,87.7L116.5,87.2L117.5,86.7L119.0,86.3L120.5,86.1L122.0,86.1L123.5,86.5L125.0,87.0L126.5,87.8L128.5,89.1L130.5,90.7L132.5,92.4L135.0,94.8L137.5,97.4L139.5,99.8L141.2,102.0L142.2,103.5L143.1,105.0L144.0,107.4L144.6,109.5L144.8,111.0L144.9,112.5L144.8,114.0L144.5,115.3L144.0,116.5L143.5,117.5L142.7,118.5L141.8,119.5L140.5,120.5L139.5,121.1L137.5,122.0L136.1,122.5L132.0,123.6L129.0,124.2L127.0,124.5Z"/>
<path fill="#25ffda" d="M122.5,124.5L120.0,124.5L117.5,124.4L115.0,124.2L112.0,123.7L110.8,123.5L106.9,122.5L105.4,122.0L104.0,121.4L102.2,120.5L101.0,119.6L99.8,118.5L99.0,117.5L98.4,116.5L97.8,115.0L97.5,114.0L97.4,112.5L97.4,111.0L97.7,109.0L98.3,107.0L99.1,105.0L99.9,103.5L101.3,101.5L102.8,99.5L104.5,97.5L106.9,95.0L109.0,93.0L111.5,90.8L113.5,89.3L115.5,88.0L117.0,87.3L118.0,86.9L119.0,86.7L120.5,86.5L122.0,86.5L123.5,86.8L125.0,87.4L127.0,88.5L129.0,89.8L131.0,91.4L133.5,93.6L135.9,96.0L138.2,98.5L139.8,100.5L141.2,102.5L142.5,104.5L143.1,106.0L143.8,108.0L144.3,110.0L144.4,111.5L144.4,113.0L144.3,114.0L143.8,115.5L143.4,116.5L142.8,117.5L142.0,118.5L141.0,119.5L139.6,120.5L137.6,121.5L136.4,122.0L134.9,122.5L131.0,123.5L129.0,123.9L126.5,124.2L124.5,124.4L122.5,124.5Z"/>
<path fill="#3affc5" d="M124.0,124.0L121.5,124.1L119.0,124.1L116.0,123.9L113.5,123.6L112.7,123.5L108.4,122.5L106.8,122.0L105.4,121.5L104.0,120.9L102.4,120.0L101.1,119.0L100.1,118.0L99.3,117.0L98.6,115.5L98.2,114.5L97.9,113.0L97.9,111.5L98.1,109.5L98.5,107.5L99.4,105.0L100.3,103.5L101.2,102.0L102.3,100.5L103.9,98.5L106.2,96.0L108.5,93.7L111.0,91.5L113.0,90.0L115.0,88.7L116.5,87.9L117.5,87.5L118.5,87.1L120.0,86.9L121.5,86.8L123.0,87.1L124.5,87.5L126.5,88.5L128.5,89.8L130.5,91.3L132.5,93.0L134.5,94.9L136.5,97.0L138.7,99.5L140.2,101.5L141.5,103.5L142.4,105.0L143.0,106.5L143.5,108.5L143.9,110.5L143.9,112.0L143.8,113.5L143.5,114.8L143.0,116.0L142.5,117.0L141.7,118.0L140.7,119.0L139.5,119.9L138.0,120.8L136.5,121.5L135.0,122.0L133.4,122.5L129.1,123.5L126.5,123.8L124.0,124.0Z"/>
<path fill="#50ffaf" d="M126.0,123.5L123.5,123.7L121.0,123.7L118.5,123.7L115.7,123.5L110.4,122.5L108.4,122.0L106.8,121.5L105.0,120.8L103.5,120.0L102.0,119.0L101.0,118.1L100.1,117.0L99.4,116.0L99.0,115.0L98.5,113.5L98.3,112.0L98.3,111.0L98.4,110.0L98.7,108.5L99.2,106.5L99.8,105.0L100.6,103.5L101.5,102.0L103.0,100.0L105.0,97.6L107.0,95.5L109.1,93.5L111.5,91.4L113.5,90.0L115.5,88.7L117.5,87.8L119.0,87.4L120.5,87.2L122.0,87.3L123.5,87.6L125.0,88.1L126.5,88.8L128.5,90.1L130.5,91.6L132.2,93.0L134.5,95.2L136.5,97.3L138.4,99.5L139.9,101.5L141.2,103.5L142.0,105.0L142.7,107.0L143.2,109.0L143.4,110.5L143.5,112.0L143.3,113.5L143.0,114.5L142.5,115.7L141.7,117.0L140.9,118.0L140.0,118.8L139.0,119.6L137.5,120.4L136.3,121.0L135.0,121.5L133.4,122.0L131.4,122.5L126.0,123.5Z"/>
<path fill="#66ff99" d="M123.5,123.0L121.0,123.1L119.0,123.1L116.5,122.9L113.4,122.5L110.7,122.0L108.7,121.5L107.0,121.0L105.5,120.4L104.0,119.6L103.0,119.0L101.8,118.0L100.8,117.0L100.1,116.0L99.5,114.8L99.1,113.5L98.9,112.0L98.8,110.5L99.1,108.5L99.4,107.0L100.1,105.0L100.9,103.5L102.2,101.5L103.3,100.0L105.0,98.0L107.0,95.8L109.0,93.9L111.0,92.1L113.0,90.6L115.0,89.4L116.5,88.6L117.5,88.2L118.5,87.9L120.0,87.6L121.5,87.6L123.0,87.8L124.5,88.3L126.5,89.2L128.0,90.1L130.0,91.5L132.0,93.2L134.0,95.0L135.9,97.0L137.7,99.0L139.2,101.0L140.6,103.0L141.7,105.0L142.0,106.0L142.6,108.0L142.9,110.0L143.0,111.5L142.8,113.0L142.5,114.2L142.0,115.4L141.4,116.5L140.5,117.5L139.5,118.5L138.5,119.2L137.1,120.0L136.0,120.5L134.5,121.1L132.5,121.7L131.0,122.0L128.4,122.5L126.0,122.8L123.5,123.0Z"/>
<path fill="#7bff84" d="M126.5,122.0L124.0,122.2L121.0,122.2L118.0,122.2L115.5,122.0L113.0,121.7L111.0,121.4L109.0,121.0L107.5,120.5L106.0,119.9L104.5,119.2L103.4,118.5L102.1,117.5L101.2,116.5L100.5,115.5L100.0,114.5L99.5,113.0L99.3,111.5L99.3,110.0L99.5,108.5L100.0,106.5L100.5,105.0L101.3,103.5L102.5,101.6L103.6,100.0L105.5,97.8L107.5,95.6L109.5,93.8L111.5,92.1L113.5,90.6L115.0,89.7L117.0,88.7L118.5,88.3L120.0,88.0L121.5,88.0L123.0,88.2L124.5,88.6L126.0,89.3L127.5,90.1L129.0,91.1L131.0,92.6L133.0,94.4L135.0,96.4L136.9,98.5L138.5,100.5L139.9,102.5L141.1,104.5L141.5,105.5L142.1,107.5L142.4,109.0L142.5,110.5L142.4,112.0L142.3,113.0L141.8,114.5L141.3,115.5L140.6,116.5L139.7,117.5L138.5,118.5L137.5,119.1L136.0,119.9L134.5,120.4L133.0,120.9L131.0,121.4L129.0,121.7L126.5,122.0Z"/>
<path fill="#91ff6e" d="M129.0,121.0L127.0,121.2L124.5,121.3L121.0,121.4L117.5,121.3L113.5,121.1L111.5,120.8L109.5,120.4L108.0,120.0L106.5,119.5L105.0,118.8L103.7,118.0L102.5,117.0L101.6,116.0L100.9,115.0L100.4,114.0L100.0,112.5L99.8,111.0L99.8,109.5L100.0,108.0L100.4,106.5L100.9,105.0L101.6,103.5L102.6,102.0L104.0,100.0L105.6,98.0L107.5,96.0L109.5,94.1L111.5,92.4L113.5,91.0L115.5,89.8L117.0,89.1L118.5,88.6L120.0,88.4L121.0,88.3L122.5,88.5L124.0,88.8L125.5,89.4L127.0,90.2L128.5,91.1L130.5,92.6L132.2,94.0L134.0,95.7L136.0,97.8L137.4,99.5L138.9,101.5L140.2,103.5L140.9,105.0L141.4,106.5L141.8,108.0L142.0,109.5L142.0,111.0L141.8,112.5L141.5,113.6L141.0,114.7L140.2,116.0L139.5,116.8L138.5,117.7L137.3,118.5L136.0,119.2L134.5,119.8L133.0,120.3L131.0,120.7L129.0,121.0Z"/>
<path fill="#a6ff59" d="M128.0,120.5L125.5,120.7L123.0,120.8L120.0,120.8L117.0,120.7L115.0,120.6L112.5,120.4L111.0,120.1L109.0,119.7L107.5,119.2L106.0,118.6L104.5,117.8L103.5,117.0L102.5,116.1L101.7,115.0L101.1,114.0L100.7,113.0L100.4,111.5L100.3,110.0L100.4,108.5L100.7,107.0L101.1,105.5L101.5,104.5L102.5,102.7L103.6,101.0L105.1,99.0L106.9,97.0L108.5,95.4L110.5,93.6L112.5,92.0L114.0,91.0L116.0,89.9L117.5,89.3L119.0,88.9L120.5,88.7L121.5,88.7L123.0,88.9L124.5,89.4L126.0,90.0L127.5,90.8L129.0,91.8L131.0,93.3L132.9,95.0L134.5,96.6L136.3,98.5L137.5,100.0L138.9,102.0L140.1,104.0L140.7,105.5L141.1,107.0L141.4,108.5L141.5,110.0L141.4,111.5L141.1,113.0L140.7,114.0L140.1,115.0L139.5,115.9L138.5,116.9L137.5,117.6L136.5,118.2L135.0,119.0L133.5,119.5L132.0,119.9L130.0,120.3L128.0,120.5Z"/>
<path fill="#bcff43" d="M127.5,120.1L125.0,120.2L122.5,120.3L119.5,120.3L117.0,120.3L115.0,120.1L112.5,119.8L111.0,119.6L109.0,119.1L107.5,118.6L106.0,117.9L105.0,117.4L103.8,116.5L102.8,115.5L102.1,114.5L101.5,113.5L101.2,112.5L100.9,111.0L100.8,109.5L100.9,108.0L101.2,106.5L101.7,105.0L102.1,104.0L103.0,102.5L104.0,101.0L105.5,99.0L107.0,97.3L108.8,95.5L110.5,93.9L112.3,92.5L114.0,91.4L115.6,90.5L117.5,89.7L119.0,89.3L120.5,89.1L121.5,89.1L123.0,89.3L124.5,89.8L126.0,90.4L127.5,91.2L129.0,92.2L130.8,93.5L132.5,95.0L134.5,97.0L136.0,98.6L137.5,100.5L138.5,102.0L139.7,104.0L140.3,105.5L140.7,107.0L140.9,108.5L141.0,110.0L140.9,111.0L140.6,112.5L140.3,113.5L139.7,114.5L139.0,115.5L138.0,116.5L137.0,117.2L136.0,117.8L134.5,118.5L133.0,119.0L131.5,119.4L129.5,119.8L127.5,120.1Z"/>
<path fill="#d2ff2d" d="M128.0,119.5L126.0,119.7L123.5,119.9L120.5,119.9L118.0,119.9L115.5,119.7L113.5,119.5L111.5,119.2L110.0,118.8L108.5,118.4L107.0,117.8L106.0,117.3L104.8,116.5L103.7,115.5L103.0,114.7L102.2,113.5L101.8,112.5L101.5,111.4L101.3,110.0L101.3,108.5L101.6,107.0L101.9,105.5L102.3,104.5L103.1,103.0L104.0,101.5L105.5,99.5L106.7,98.0L108.5,96.1L110.3,94.5L112.0,93.1L113.6,92.0L115.5,90.9L117.0,90.3L118.5,89.8L120.0,89.6L121.0,89.5L122.5,89.7L124.0,90.0L125.4,90.5L126.5,91.0L128.2,92.0L129.6,93.0L131.5,94.5L133.5,96.3L135.1,98.0L136.5,99.7L137.8,101.5L139.0,103.5L139.7,105.0L140.1,106.5L140.4,108.0L140.5,109.5L140.4,110.5L140.2,112.0L139.8,113.0L139.3,114.0L138.6,115.0L138.0,115.6L137.0,116.5L136.0,117.2L134.5,117.9L133.0,118.5L131.5,118.9L130.0,119.2L128.0,119.5Z"/>
<path fill="#e7ff18" d="M123.0,119.5L118.5,119.5L116.0,119.3L114.0,119.1L112.0,118.8L110.5,118.5L109.0,118.0L107.7,117.5L106.5,116.9L105.5,116.2L104.5,115.4L103.6,114.5L102.9,113.5L102.5,112.5L102.1,111.5L101.9,110.0L101.9,108.5L102.0,107.2L102.4,105.5L102.8,104.5L103.5,103.0L104.5,101.4L105.5,100.0L107.1,98.0L108.6,96.5L110.2,95.0L112.0,93.5L113.5,92.5L115.2,91.5L117.0,90.7L118.5,90.2L120.0,90.0L121.5,90.0L122.5,90.1L124.0,90.4L125.6,91.0L127.5,92.0L129.0,93.0L130.5,94.1L132.0,95.3L133.5,96.8L135.1,98.5L136.5,100.2L137.7,102.0L138.6,103.5L139.2,105.0L139.7,106.5L139.9,108.0L140.0,109.5L139.9,110.5L139.5,112.0L139.1,113.0L138.5,114.0L137.7,115.0L137.0,115.7L136.0,116.5L135.0,117.1L133.5,117.7L132.0,118.3L130.5,118.7L128.7,119.0L127.0,119.2L123.0,119.5Z"/>
<path fill="#fdff02" d="M124.5,119.0L122.5,119.1L120.0,119.1L117.5,119.0L115.5,118.9L113.5,118.6L112.0,118.3L110.5,117.9L109.0,117.4L108.0,117.0L106.5,116.2L105.5,115.5L104.5,114.5L103.7,113.5L103.2,112.5L102.8,111.5L102.5,110.5L102.4,109.5L102.4,108.0L102.6,106.5L103.0,105.0L103.7,103.5L104.5,102.1L105.5,100.6L106.5,99.3L108.0,97.6L109.5,96.1L111.0,94.8L112.7,93.5L114.2,92.5L116.0,91.6L117.5,91.0L119.0,90.6L120.5,90.4L122.0,90.5L123.0,90.6L124.5,91.0L126.0,91.7L127.5,92.4L129.0,93.4L130.5,94.5L132.0,95.8L133.5,97.3L135.0,98.9L136.2,100.5L137.3,102.0L138.1,103.5L138.8,105.0L139.2,106.5L139.4,108.0L139.4,109.0L139.3,110.5L139.0,111.5L138.6,112.5L138.1,113.5L137.3,114.5L136.5,115.3L135.6,116.0L134.5,116.7L133.0,117.4L131.5,117.9L130.0,118.3L128.5,118.6L126.5,118.9L124.5,119.0Z"/>
<path fill="#ffec00" d="M125.5,118.5L123.5,118.7L121.5,118.7L119.5,118.7L117.5,118.6L115.5,118.4L114.0,118.2L112.5,117.9L110.5,117.4L109.4,117.0L108.0,116.4L107.0,115.8L105.9,115.0L104.9,114.0L104.2,113.0L103.7,112.0L103.3,111.0L103.1,110.0L103.0,108.5L103.1,107.0L103.4,105.5L103.7,104.5L104.4,103.0L105.0,102.0L106.0,100.5L107.2,99.0L108.6,97.5L110.0,96.1L111.5,94.8L113.0,93.8L114.5,92.8L116.0,92.1L117.5,91.5L119.0,91.1L120.0,91.0L121.5,91.0L123.0,91.2L124.3,91.5L125.7,92.0L127.0,92.7L128.5,93.5L130.0,94.6L131.7,96.0L133.0,97.3L134.5,98.9L135.8,100.5L136.8,102.0L137.6,103.5L138.3,105.0L138.6,106.5L138.8,108.0L138.8,109.5L138.6,110.5L138.3,111.5L137.9,112.5L137.3,113.5L136.5,114.4L135.5,115.3L134.5,116.0L133.5,116.5L132.0,117.2L130.5,117.6L129.1,118.0L127.5,118.3L125.5,118.5Z"/>
<path fill="#ffd600" d="M126.0,118.1L124.0,118.3L122.0,118.4L120.0,118.4L118.0,118.3L116.0,118.1L114.0,117.8L112.5,117.4L111.0,117.0L109.6,116.5L108.5,116.0L107.5,115.4L106.4,114.5L105.5,113.6L105.0,112.9L104.5,112.0L104.0,111.0L103.8,110.0L103.6,108.5L103.7,107.0L104.0,105.5L104.3,104.5L105.0,103.0L105.6,102.0L106.5,100.6L107.8,99.0L109.0,97.6L110.5,96.2L112.0,95.0L113.5,94.0L115.0,93.1L116.3,92.5L117.5,92.1L119.0,91.7L120.5,91.5L121.5,91.5L123.0,91.7L124.1,92.0L125.5,92.5L127.0,93.2L128.5,94.1L130.0,95.2L131.5,96.4L132.7,97.5L134.0,99.0L135.2,100.5L136.2,102.0L137.1,103.5L137.7,105.0L138.0,106.3L138.2,107.5L138.2,109.0L138.0,110.0L137.8,111.0L137.3,112.0L136.8,113.0L136.0,113.9L135.0,114.8L134.1,115.5L133.2,116.0L132.0,116.6L130.8,117.0L129.5,117.4L128.0,117.7L126.0,118.1Z"/>
<path fill="#ffc000" d="M126.5,117.6L125.0,117.8L123.0,117.9L121.0,118.0L119.0,117.9L117.0,117.8L115.5,117.6L114.0,117.3L112.5,117.0L111.1,116.5L110.0,116.0L108.9,115.5L108.0,114.9L107.0,114.1L106.4,113.5L105.6,112.5L105.0,111.4L104.5,110.0L104.4,109.0L104.3,108.0L104.4,106.5L104.6,105.5L104.9,104.5L105.5,103.2L106.1,102.0L107.0,100.7L108.0,99.4L109.3,98.0L110.5,96.9L112.0,95.6L113.5,94.6L114.5,94.0L116.0,93.2L117.5,92.7L118.5,92.4L120.0,92.2L121.5,92.2L123.0,92.4L124.0,92.6L125.5,93.1L127.0,93.8L128.5,94.7L130.0,95.8L131.5,97.0L133.0,98.5L134.0,99.7L135.0,101.0L136.0,102.5L136.7,104.0L137.1,105.0L137.4,106.5L137.5,108.0L137.4,109.0L137.3,110.0L137.0,111.0L136.5,112.0L135.8,113.0L135.0,113.9L134.3,114.5L133.0,115.4L132.0,116.0L130.7,116.5L129.5,116.9L128.0,117.3L126.5,117.6Z"/>
<path fill="#ffab00" d="M123.5,117.5L122.0,117.6L120.0,117.6L118.0,117.5L116.5,117.3L115.0,117.1L113.5,116.8L112.0,116.3L111.0,115.9L109.5,115.1L108.5,114.5L107.9,114.0L107.0,113.1L106.5,112.5L105.9,111.5L105.5,110.5L105.2,109.5L105.1,108.5L105.0,107.5L105.1,106.5L105.4,105.0L106.0,103.5L106.5,102.5L107.4,101.0L108.2,100.0L109.5,98.5L110.5,97.5L111.7,96.5L113.0,95.5L114.5,94.6L115.8,94.0L117.0,93.5L118.5,93.1L119.5,92.9L121.0,92.8L122.5,93.0L123.5,93.1L125.0,93.6L126.0,94.0L127.5,94.7L129.0,95.7L130.5,96.8L131.8,98.0L133.0,99.3L134.0,100.5L135.0,102.0L135.6,103.0L136.2,104.5L136.5,105.5L136.7,107.0L136.8,108.0L136.7,109.0L136.5,110.0L136.1,111.0L135.6,112.0L134.9,113.0L134.0,113.9L133.0,114.7L132.0,115.3L130.6,116.0L129.5,116.4L128.0,116.8L126.5,117.2L123.5,117.5Z"/>
<path fill="#ff9500" d="M124.5,117.1L121.5,117.3L119.5,117.2L118.0,117.1L116.5,117.0L115.0,116.7L113.5,116.3L112.5,116.0L111.4,115.5L110.4,115.0L109.5,114.4L108.3,113.5L107.8,113.0L107.1,112.0L106.5,111.0L106.1,110.0L105.9,109.0L105.8,108.0L105.8,107.0L106.0,105.5L106.2,104.5L106.6,103.5L107.1,102.5L108.0,101.1L108.9,100.0L109.7,99.0L110.8,98.0L112.0,96.9L113.0,96.2L114.5,95.3L115.5,94.8L117.0,94.2L118.5,93.8L119.5,93.6L120.5,93.6L122.0,93.6L123.5,93.8L125.0,94.3L126.0,94.7L127.5,95.4L129.0,96.4L130.0,97.1L131.5,98.4L132.5,99.5L133.5,100.7L134.4,102.0L135.2,103.5L135.6,104.5L135.8,105.5L136.0,107.0L136.0,108.0L135.9,109.0L135.7,110.0L135.3,111.0L134.7,112.0L134.0,113.0L133.0,113.9L132.2,114.5L131.0,115.2L130.0,115.7L129.0,116.1L127.5,116.5L126.0,116.8L124.5,117.1Z"/>
<path fill="#ff8000" d="M125.5,116.5L124.0,116.7L122.5,116.9L119.5,116.9L118.0,116.7L116.5,116.5L114.0,116.0L112.6,115.5L111.5,115.0L110.6,114.5L109.9,114.0L109.0,113.3L108.3,112.5L107.9,112.0L107.3,111.0L106.9,110.0L106.6,109.0L106.5,108.0L106.5,107.0L106.6,106.0L106.7,105.0L107.1,104.0L107.5,103.0L108.1,102.0L108.8,101.0L109.5,100.0L110.5,99.0L111.5,98.0L112.5,97.2L113.5,96.5L115.0,95.7L116.0,95.2L117.5,94.7L119.0,94.4L120.0,94.3L121.5,94.3L122.5,94.3L124.0,94.6L125.5,95.1L127.0,95.8L128.0,96.4L129.5,97.4L130.5,98.2L131.5,99.2L132.7,100.5L133.7,102.0L134.3,103.0L134.7,104.0L135.1,105.0L135.3,106.5L135.3,107.5L135.2,109.0L134.9,110.0L134.5,111.0L134.0,111.9L133.5,112.5L132.5,113.5L131.5,114.3L130.5,114.9L129.2,115.5L128.0,115.9L125.5,116.5Z"/>
<path fill="#ff6a00" d="M121.5,116.5L120.0,116.5L118.5,116.4L116.0,116.0L114.5,115.6L113.5,115.3L112.5,114.9L111.5,114.4L110.5,113.7L109.6,113.0L109.0,112.4L108.4,111.5L108.0,110.9L107.6,110.0L107.3,109.0L107.2,108.0L107.1,107.0L107.2,106.0L107.4,105.0L107.7,104.0L108.2,103.0L109.0,101.6L109.8,100.5L110.7,99.5L111.5,98.7L112.5,97.9L113.8,97.0L115.0,96.3L116.0,95.9L117.5,95.4L119.0,95.1L120.0,95.0L121.5,94.9L122.5,95.0L124.0,95.3L125.0,95.6L126.0,96.0L127.5,96.7L128.5,97.3L129.5,98.0L130.5,98.9L131.5,99.9L132.4,101.0L133.1,102.0L133.7,103.0L134.3,104.5L134.5,105.5L134.6,106.5L134.7,107.5L134.6,108.5L134.3,109.5L134.0,110.5L133.4,111.5L133.0,112.1L132.2,113.0L131.5,113.6L130.5,114.3L129.5,114.8L127.5,115.6L126.0,116.0L124.5,116.3L123.0,116.4L121.5,116.5Z"/>
<path fill="#ff5400" d="M123.0,116.0L121.5,116.1L120.0,116.1L117.5,115.8L116.0,115.6L115.0,115.3L114.1,115.0L113.0,114.6L111.9,114.0L111.2,113.5L110.0,112.5L109.5,111.9L108.8,111.0L108.5,110.3L108.2,109.5L107.9,108.5L107.8,107.5L107.8,106.5L107.9,105.5L108.0,105.0L108.3,104.0L108.8,103.0L109.3,102.0L110.0,101.0L110.9,100.0L112.5,98.5L113.5,97.8L114.5,97.2L115.5,96.8L116.5,96.4L117.5,96.1L119.0,95.8L120.5,95.7L122.0,95.7L123.5,95.9L124.5,96.1L125.5,96.5L126.8,97.0L128.0,97.6L129.0,98.3L130.0,99.1L131.0,100.1L131.8,101.0L132.5,102.1L133.3,103.5L133.6,104.5L133.9,105.5L134.0,106.5L134.0,107.5L133.9,108.5L133.6,109.5L133.2,110.5L132.6,111.5L132.0,112.3L131.3,113.0L130.5,113.6L129.5,114.2L128.5,114.7L127.5,115.1L126.0,115.5L124.5,115.8L123.0,116.0Z"/>
<path fill="#ff3f00" d="M123.0,115.5L120.5,115.6L118.5,115.5L116.0,115.1L114.3,114.5L113.1,114.0L112.5,113.6L111.5,113.0L111.0,112.6L110.0,111.5L109.5,110.7L109.1,110.0L108.6,108.5L108.5,107.5L108.5,106.5L108.7,105.0L109.0,104.0L109.4,103.0L110.0,102.0L110.5,101.3L111.2,100.5L112.0,99.7L113.5,98.5L114.5,97.9L115.5,97.5L116.5,97.1L118.0,96.7L119.0,96.6L120.5,96.4L121.5,96.5L123.0,96.6L124.5,96.9L125.5,97.2L126.5,97.6L127.5,98.0L128.5,98.7L129.6,99.5L130.6,100.5L131.5,101.5L132.1,102.5L132.6,103.5L133.0,104.5L133.2,105.5L133.3,106.5L133.3,107.5L133.2,108.5L132.9,109.5L132.4,110.5L131.8,111.5L131.0,112.4L130.3,113.0L129.5,113.5L128.5,114.1L127.5,114.5L126.0,115.0L124.5,115.3L123.0,115.5Z"/>
<path fill="#ff2900" d="M122.5,115.0L120.5,115.1L118.5,115.0L116.1,114.5L114.5,113.9L113.6,113.5L112.7,113.0L111.4,112.0L110.5,110.9L110.0,110.1L109.7,109.5L109.5,108.8L109.3,108.0L109.2,107.0L109.2,106.0L109.5,104.5L110.1,103.0L111.1,101.5L112.0,100.5L112.5,100.0L114.0,99.0L115.5,98.2L116.5,97.9L118.0,97.5L119.0,97.3L120.5,97.2L122.0,97.2L123.0,97.3L124.5,97.6L125.5,97.9L126.5,98.3L127.5,98.8L128.5,99.4L129.5,100.2L130.3,101.0L131.0,101.9L131.5,102.6L132.0,103.6L132.3,104.5L132.5,105.5L132.6,107.0L132.5,108.0L132.2,109.0L131.8,110.0L131.5,110.6L130.8,111.5L130.0,112.3L129.1,113.0L128.2,113.5L127.2,114.0L126.0,114.4L125.0,114.7L123.5,114.9L122.5,115.0Z"/>
<path fill="#ff1400" d="M124.5,114.1L122.5,114.4L121.0,114.4L119.0,114.3L117.0,114.0L115.4,113.5L114.2,113.0L113.0,112.2L112.0,111.4L111.5,110.8L111.0,110.1L110.5,109.0L110.1,107.5L110.0,106.0L110.2,105.0L110.3,104.5L110.7,103.5L111.0,102.8L111.5,102.1L112.5,101.0L113.5,100.2L114.5,99.5L115.5,99.0L116.5,98.6L118.0,98.2L119.0,98.0L120.5,97.8L121.5,97.8L123.0,98.0L124.0,98.2L125.0,98.5L126.3,99.0L127.3,99.5L128.1,100.0L129.0,100.7L129.8,101.5L130.5,102.4L131.0,103.2L131.4,104.0L131.6,105.0L131.8,106.5L131.7,107.5L131.5,108.5L131.1,109.5L130.5,110.5L130.0,111.1L129.1,112.0L128.5,112.4L127.6,113.0L126.5,113.5L124.5,114.1Z"/>
<path fill="#fd0000" d="M124.5,113.1L123.0,113.3L121.5,113.5L119.5,113.4L118.0,113.2L117.0,113.0L115.5,112.5L114.6,112.0L114.0,111.6L113.0,110.8L112.5,110.3L112.0,109.6L111.5,108.5L111.2,107.5L111.1,106.0L111.2,105.0L111.3,104.5L111.7,103.5L112.3,102.5L113.2,101.5L114.0,100.8L115.0,100.1L116.0,99.6L117.0,99.2L118.0,98.8L119.0,98.6L120.0,98.5L121.0,98.4L122.0,98.5L123.0,98.6L124.0,98.9L125.0,99.2L126.0,99.7L127.0,100.2L128.0,100.9L128.6,101.5L129.5,102.5L129.9,103.0L130.1,103.5L130.5,104.5L130.7,105.5L130.7,106.5L130.6,107.5L130.3,108.5L130.0,109.2L129.5,110.0L129.0,110.6L128.0,111.5L127.2,112.0L126.2,112.5L124.5,113.1Z"/>
<path fill="#e70000" d="M122.0,112.0L120.0,112.0L118.5,111.9L117.0,111.6L116.0,111.2L114.8,110.5L114.2,110.0L113.7,109.5L113.0,108.5L112.6,107.5L112.4,106.5L112.4,105.0L112.5,104.5L112.9,103.5L113.6,102.5L114.5,101.5L115.8,100.5L117.0,99.9L118.5,99.3L120.0,99.0L121.0,99.0L121.7,99.0L122.5,99.1L123.5,99.4L125.0,99.9L126.0,100.5L126.7,101.0L127.8,102.0L128.6,103.0L128.9,103.5L129.3,104.5L129.4,105.0L129.4,106.0L129.3,107.0L129.2,107.5L128.8,108.5L128.5,109.0L128.0,109.6L127.0,110.5L126.2,111.0L125.5,111.3L124.0,111.8L122.0,112.0Z"/>
<path fill="#d20000" d="M123.0,110.5L121.5,110.7L120.0,110.7L118.5,110.5L117.5,110.2L116.5,109.9L115.9,109.5L115.2,109.0L114.5,108.2L114.1,107.5L113.8,106.5L113.7,105.5L113.8,104.5L114.2,103.5L114.8,102.5L115.8,101.5L116.4,101.0L117.5,100.3L118.3,100.0L119.0,99.8L120.5,99.5L122.0,99.6L123.5,100.0L124.5,100.4L125.0,100.7L126.0,101.5L126.5,101.9L127.3,103.0L127.8,104.0L128.1,105.0L128.1,105.5L128.0,106.5L127.9,107.0L127.4,108.0L127.1,108.5L126.6,109.0L125.5,109.8L124.5,110.2L123.0,110.5Z"/>
<path fill="#bc0000" d="M124.0,109.0L123.0,109.3L122.0,109.4L120.5,109.5L119.5,109.4L118.0,109.1L117.0,108.7L116.5,108.4L116.0,107.9L115.6,107.5L115.3,107.0L115.1,106.5L115.0,105.5L115.0,105.0L115.2,104.0L115.7,103.0L116.1,102.5L117.0,101.6L118.0,100.9L119.1,100.5L120.5,100.2L121.0,100.2L122.0,100.3L123.0,100.6L124.0,101.1L125.0,101.8L125.7,102.5L126.1,103.0L126.6,104.0L126.8,105.0L126.8,106.0L126.5,107.0L126.2,107.5L125.7,108.0L125.0,108.6L124.0,109.0Z"/>
<path fill="#a70000" d="M121.0,108.5L120.0,108.5L119.0,108.3L118.2,108.0L117.5,107.6L116.9,107.0L116.5,106.5L116.3,106.0L116.2,105.5L116.2,105.0L116.4,104.0L117.0,103.0L117.4,102.5L118.0,102.0L118.9,101.5L119.5,101.3L120.5,101.1L121.0,101.1L122.0,101.2L123.0,101.6L123.8,102.0L124.5,102.6L125.1,103.5L125.5,104.4L125.6,105.0L125.6,105.5L125.5,105.9L125.3,106.5L124.9,107.0L124.4,107.5L123.6,108.0L123.0,108.2L122.0,108.4L121.0,108.5Z"/>
<path fill="#910000" d="M122.5,107.1L121.5,107.4L120.5,107.4L120.0,107.3L119.0,107.0L118.3,106.5L117.9,106.0L117.7,105.5L117.6,105.0L117.7,104.5L117.9,104.0L118.2,103.5L118.5,103.2L119.0,102.8L119.5,102.5L120.5,102.2L121.0,102.2L122.0,102.4L122.5,102.6L123.1,103.0L123.6,103.5L123.9,104.0L124.1,104.5L124.2,105.0L124.1,105.5L123.9,106.0L123.5,106.5L123.0,106.9L122.5,107.1Z"/>
</g></g>
<g clip-path="url(#cZ)">
<rect x="272" y="95" width="177" height="92.8" fill="#000083"/>
<g filter="url(#bZ)">
<rect x="285" y="95" width="150" height="35" fill="#000083"/>
<path fill="#00008b" d="M412.0,121.5L410.0,121.7L408.0,121.8L399.0,121.9L330.5,121.9L313.5,121.9L309.5,121.7L306.0,121.3L305.1,121.0L304.5,120.6L304.3,120.5L304.1,120.0L304.0,119.5L304.0,119.0L304.3,118.0L304.8,116.5L305.9,114.0L308.3,109.0L309.4,107.0L310.8,104.5L312.0,102.8L312.5,102.2L313.0,101.8L314.0,101.3L315.0,101.0L316.0,100.8L317.5,100.7L323.5,100.6L389.0,100.6L400.5,100.6L403.0,100.7L404.5,100.9L406.0,101.2L407.0,101.6L408.0,102.3L408.7,103.0L409.7,104.5L411.2,107.0L413.3,111.0L414.8,114.5L415.8,117.0L416.1,118.0L416.2,119.0L416.2,119.5L416.1,120.0L415.7,120.5L415.5,120.7L414.8,121.0L414.0,121.2L412.0,121.5Z"/>
<path fill="#000091" d="M408.0,121.5L405.5,121.7L402.5,121.7L390.0,121.8L360.5,121.7L330.5,121.8L315.0,121.7L310.0,121.4L308.5,121.2L307.0,120.8L306.2,120.5L305.5,120.0L305.1,119.5L305.0,119.0L305.0,118.5L305.1,117.5L305.4,116.5L306.3,114.0L307.2,112.0L308.7,109.0L309.8,107.0L310.7,105.5L312.0,103.6L312.6,103.0L313.5,102.2L314.5,101.7L316.5,101.1L318.0,100.9L320.0,100.7L328.0,100.6L361.0,100.7L389.0,100.6L399.5,100.7L402.0,100.9L404.0,101.2L406.0,101.8L407.0,102.4L407.5,102.8L408.7,104.0L409.8,105.5L410.4,106.5L412.3,110.0L413.9,113.5L414.8,116.0L415.1,117.5L415.2,118.5L415.1,119.0L414.9,119.5L414.5,120.0L414.0,120.3L413.0,120.7L410.5,121.3L408.0,121.5Z"/>
<path fill="#000097" d="M404.0,121.5L398.0,121.6L390.0,121.7L360.5,121.5L332.5,121.7L322.5,121.6L314.5,121.5L310.5,121.2L309.0,120.9L307.7,120.5L306.6,120.0L306.0,119.5L305.8,119.0L305.6,118.5L305.6,118.0L305.7,117.0L306.1,115.5L306.7,114.0L307.3,112.5L308.2,110.5L309.3,108.5L310.4,106.5L311.4,105.0L312.0,104.2L312.7,103.5L313.5,102.8L314.0,102.4L314.5,102.2L315.5,101.7L316.5,101.4L317.5,101.2L319.5,100.9L321.0,100.8L329.5,100.7L360.5,100.8L388.5,100.7L399.0,100.8L402.0,101.1L403.5,101.4L404.5,101.7L406.0,102.3L407.0,103.0L408.0,103.9L408.9,105.0L409.6,106.0L410.8,108.0L411.6,109.5L413.3,113.0L413.8,114.5L414.3,116.0L414.5,117.5L414.4,118.5L414.2,119.0L413.9,119.5L413.2,120.0L412.5,120.3L411.0,120.8L409.5,121.1L407.0,121.4L404.0,121.5Z"/>
<path fill="#00009d" d="M397.0,121.5L388.0,121.6L359.5,121.4L332.0,121.6L320.5,121.5L315.0,121.3L312.5,121.2L310.5,120.9L309.5,120.7L308.5,120.4L307.6,120.0L307.0,119.6L306.5,119.1L306.2,118.5L306.1,117.5L306.2,116.5L306.6,115.0L307.1,113.5L307.8,112.0L308.7,110.0L309.8,108.0L310.7,106.5L311.5,105.3L312.6,104.0L313.5,103.2L314.0,102.8L315.0,102.3L316.0,101.8L318.0,101.3L319.5,101.1L321.5,100.9L329.0,100.8L360.5,100.9L389.5,100.8L396.0,100.8L399.5,101.0L402.0,101.2L403.5,101.6L406.0,102.7L407.1,103.5L408.0,104.4L408.5,105.0L409.3,106.0L410.2,107.5L411.8,110.5L412.7,112.5L413.3,114.0L413.8,115.5L413.9,116.5L414.0,117.5L413.9,118.0L413.8,118.5L413.5,119.0L413.0,119.5L412.5,119.8L410.9,120.5L409.5,120.9L407.5,121.2L405.0,121.3L397.0,121.5Z"/>
<path fill="#0000a3" d="M407.0,121.0L404.5,121.2L401.5,121.3L389.5,121.5L360.5,121.3L331.0,121.5L323.0,121.4L316.0,121.3L314.0,121.1L311.5,120.9L310.0,120.6L309.0,120.3L308.4,120.0L307.6,119.5L307.1,119.0L306.7,118.5L306.6,118.0L306.5,117.0L306.6,116.0L306.9,115.0L307.4,113.5L308.2,111.5L309.8,108.5L310.7,107.0L311.7,105.5L313.0,104.0L313.6,103.5L314.5,102.8L315.5,102.3L316.5,101.9L317.5,101.6L318.5,101.4L320.0,101.2L322.0,101.0L331.5,100.9L360.5,101.0L388.5,100.9L393.5,100.9L398.0,101.0L401.0,101.2L403.0,101.7L404.5,102.3L406.5,103.4L407.2,104.0L408.0,104.8L409.3,106.5L410.8,109.0L411.8,111.0L412.8,113.5L413.4,115.5L413.5,117.0L413.4,118.0L413.2,118.5L412.8,119.0L412.5,119.2L411.3,120.0L410.5,120.4L409.0,120.8L407.0,121.0Z"/>
<path fill="#0000aa" d="M405.5,121.0L403.0,121.2L399.5,121.3L388.5,121.4L360.5,121.2L331.0,121.4L323.0,121.3L316.0,121.1L313.5,121.0L311.5,120.7L310.0,120.4L309.1,120.0L308.3,119.5L307.6,119.0L307.2,118.5L307.0,118.0L306.9,117.5L306.9,116.5L307.0,115.5L307.3,114.5L307.8,113.0L308.7,111.0L310.3,108.0L311.2,106.5L312.0,105.5L312.8,104.5L313.5,103.9L315.0,102.8L316.0,102.3L317.0,101.9L318.0,101.6L319.0,101.4L320.5,101.2L323.0,101.1L332.0,100.9L360.5,101.1L388.5,100.9L393.0,101.0L397.5,101.1L400.0,101.3L402.5,101.7L404.0,102.2L405.3,103.0L406.5,103.8L407.4,104.5L408.0,105.2L409.4,107.0L410.8,109.5L412.2,112.5L412.8,114.5L413.1,116.0L413.1,117.0L413.1,117.5L412.9,118.0L412.6,118.5L412.1,119.0L411.4,119.5L410.6,120.0L410.0,120.3L408.5,120.7L405.5,121.0Z"/>
<path fill="#0000b0" d="M404.0,121.0L397.5,121.2L388.0,121.3L360.5,121.1L331.0,121.3L323.5,121.2L316.5,121.0L314.0,120.9L312.0,120.6L310.5,120.3L309.5,119.9L308.8,119.5L308.2,119.0L307.7,118.5L307.4,118.0L307.3,117.5L307.2,116.5L307.3,115.5L307.7,114.0L308.7,111.5L310.2,108.5L311.1,107.0L312.0,105.8L312.7,105.0L313.5,104.2L314.4,103.5L315.5,102.8L317.0,102.1L318.0,101.8L319.0,101.6L321.0,101.3L323.0,101.2L331.5,101.0L360.5,101.2L388.5,101.0L393.0,101.0L397.0,101.2L400.0,101.4L402.5,101.8L403.5,102.2L404.5,102.7L406.5,104.1L407.5,105.0L408.0,105.5L408.8,106.5L409.4,107.5L410.8,110.0L411.7,112.0L412.1,113.0L412.7,115.0L412.8,116.5L412.6,117.5L412.4,118.0L412.1,118.5L410.9,119.5L410.1,120.0L409.5,120.2L408.5,120.5L407.0,120.8L404.0,121.0Z"/>
<path fill="#0000b6" d="M402.0,121.0L396.0,121.2L389.0,121.2L360.5,121.0L332.5,121.2L324.0,121.2L316.0,120.9L313.5,120.7L311.5,120.3L310.5,120.1L309.5,119.6L308.6,119.0L308.2,118.5L307.8,118.0L307.6,117.5L307.5,117.0L307.5,116.0L307.7,115.0L308.1,113.5L308.7,112.0L309.3,110.5L310.7,108.0L311.7,106.5L312.5,105.5L313.4,104.5L314.0,104.0L315.0,103.3L316.0,102.7L317.5,102.1L319.5,101.6L321.0,101.4L323.5,101.3L328.0,101.1L332.0,101.1L360.5,101.3L388.5,101.1L393.0,101.1L397.0,101.3L399.0,101.4L400.5,101.6L402.0,101.9L403.0,102.2L404.0,102.6L404.5,102.9L406.5,104.4L407.2,105.0L408.1,106.0L408.9,107.0L409.8,108.5L410.6,110.0L411.3,111.5L411.9,113.0L412.2,114.0L412.5,115.5L412.5,116.5L412.4,117.0L412.2,117.5L412.0,118.0L411.0,119.0L410.5,119.5L409.5,120.0L409.0,120.2L407.5,120.5L405.0,120.8L402.0,121.0Z"/>
<path fill="#0000bc" d="M399.0,121.0L388.0,121.2L369.0,120.9L359.5,120.9L332.5,121.2L325.0,121.1L316.5,120.8L314.0,120.6L312.0,120.3L310.9,120.0L309.7,119.5L309.1,119.0L308.6,118.5L308.2,118.0L308.0,117.5L307.8,117.0L307.8,116.0L307.9,115.0L308.1,114.0L308.6,112.5L309.3,111.0L310.0,109.5L310.9,108.0L311.5,107.0L312.5,105.7L313.2,105.0L314.0,104.3L315.0,103.5L316.0,102.9L317.5,102.2L319.0,101.8L320.0,101.6L322.0,101.4L324.5,101.3L328.0,101.2L332.5,101.1L359.0,101.4L388.0,101.1L393.0,101.2L397.0,101.3L400.5,101.7L401.5,101.9L403.0,102.3L404.0,102.8L404.5,103.1L405.7,104.0L406.9,105.0L407.9,106.0L408.6,107.0L409.6,108.5L410.4,110.0L411.1,111.5L411.6,113.0L412.0,114.5L412.2,115.5L412.2,116.5L412.0,117.0L411.8,117.5L411.5,118.0L410.7,119.0L410.0,119.5L409.5,119.8L409.0,120.0L408.0,120.3L405.5,120.7L403.0,120.9L399.0,121.0Z"/>
<path fill="#0000c2" d="M396.0,121.0L388.0,121.1L360.0,120.8L332.0,121.1L323.0,121.0L316.0,120.7L314.0,120.5L312.0,120.1L311.0,119.9L310.0,119.4L309.4,119.0L308.9,118.5L308.3,117.5L308.1,117.0L308.1,116.5L308.1,115.5L308.2,114.5L308.7,113.0L309.7,110.5L310.5,109.0L311.4,107.5L312.1,106.5L313.0,105.5L313.5,104.9L315.0,103.7L316.5,102.8L318.0,102.2L319.5,101.8L320.5,101.7L322.0,101.5L325.5,101.4L332.0,101.2L360.5,101.5L389.0,101.2L394.0,101.3L398.5,101.5L400.5,101.8L402.5,102.3L403.5,102.7L404.5,103.3L406.5,104.9L407.6,106.0L408.4,107.0L409.1,108.0L409.9,109.5L410.7,111.0L411.3,112.5L411.6,113.5L411.8,114.5L411.9,115.5L411.8,116.5L411.7,117.0L411.1,118.0L410.3,119.0L409.5,119.6L409.0,119.8L408.0,120.1L406.0,120.5L404.0,120.7L400.5,120.9L396.0,121.0Z"/>
<path fill="#0000c8" d="M389.0,121.0L360.5,120.7L331.0,121.0L323.5,120.9L316.5,120.6L314.5,120.5L312.5,120.1L311.0,119.7L310.0,119.2L309.3,118.5L308.6,117.5L308.3,116.5L308.3,115.5L308.4,114.5L308.7,113.5L309.2,112.0L309.9,110.5L310.7,109.0L311.5,107.6L312.3,106.5L313.2,105.5L314.2,104.5L315.0,103.9L316.0,103.2L317.0,102.7L318.0,102.3L319.5,102.0L320.5,101.8L322.0,101.6L327.5,101.4L333.0,101.3L348.0,101.5L360.5,101.6L388.5,101.3L393.5,101.4L397.5,101.6L399.5,101.7L400.5,101.9L402.5,102.4L403.5,102.8L404.5,103.5L406.4,105.0L407.5,106.2L408.5,107.5L409.7,109.5L410.7,111.5L411.4,113.5L411.6,115.0L411.6,116.0L411.4,117.0L410.8,118.0L410.5,118.5L410.0,119.0L409.5,119.4L408.5,119.8L407.5,120.1L406.0,120.4L404.0,120.6L398.0,120.9L389.0,121.0Z"/>
<path fill="#0000ce" d="M404.0,120.5L401.0,120.7L397.5,120.8L388.0,120.9L360.5,120.6L331.5,120.9L324.5,120.9L318.0,120.6L315.5,120.5L313.5,120.2L311.5,119.7L310.5,119.2L310.1,119.0L309.6,118.5L309.2,118.0L308.7,117.0L308.6,116.5L308.5,115.5L308.6,114.5L308.9,113.5L309.2,112.5L309.8,111.0L310.3,110.0L311.1,108.5L312.0,107.2L312.9,106.0L313.9,105.0L315.0,104.1L315.8,103.5L316.5,103.1L317.5,102.6L318.5,102.3L320.5,101.9L322.5,101.7L325.0,101.5L328.5,101.4L332.5,101.4L359.0,101.7L368.5,101.6L388.0,101.4L392.5,101.4L396.5,101.6L399.5,101.8L401.5,102.2L403.0,102.7L404.3,103.5L405.5,104.5L406.6,105.5L408.0,107.0L408.7,108.0L409.3,109.0L409.8,110.0L410.5,111.5L411.2,113.5L411.3,114.5L411.4,115.5L411.2,116.5L410.8,117.5L410.2,118.5L409.7,119.0L409.0,119.4L408.0,119.8L406.0,120.3L404.0,120.5Z"/>
<path fill="#0000d4" d="M402.5,120.5L396.0,120.8L388.0,120.9L360.5,120.5L331.5,120.9L324.5,120.8L318.0,120.5L315.5,120.4L313.5,120.1L311.5,119.5L310.5,119.0L309.9,118.5L309.5,118.0L309.2,117.5L308.9,116.5L308.8,116.0L308.8,115.0L308.9,114.0L309.2,113.0L309.7,111.5L310.2,110.5L310.7,109.5L311.6,108.0L312.3,107.0L313.1,106.0L314.1,105.0L315.0,104.2L316.5,103.2L317.5,102.7L318.5,102.4L320.5,102.0L322.5,101.8L325.0,101.6L328.5,101.5L332.5,101.4L359.0,101.8L368.5,101.7L388.0,101.4L392.5,101.5L396.5,101.6L399.5,101.9L401.5,102.3L403.0,102.9L403.5,103.1L404.5,103.8L405.4,104.5L406.9,106.0L408.1,107.5L408.8,108.5L409.6,110.0L410.3,111.5L410.7,112.5L411.0,114.0L411.1,115.0L411.1,115.5L411.1,116.0L410.8,117.0L410.3,118.0L409.9,118.5L409.4,119.0L409.0,119.2L408.5,119.5L407.5,119.8L405.5,120.2L402.5,120.5Z"/>
<path fill="#0000da" d="M401.5,120.5L396.0,120.7L389.0,120.8L380.0,120.7L368.5,120.5L360.5,120.5L349.5,120.5L333.0,120.8L325.0,120.7L317.5,120.4L315.5,120.3L313.5,119.9L311.9,119.5L310.8,119.0L310.0,118.3L309.7,118.0L309.4,117.5L309.1,116.5L309.0,115.5L309.0,115.0L309.1,114.0L309.4,113.0L309.7,112.0L310.4,110.5L311.2,109.0L311.8,108.0L312.5,107.0L313.3,106.0L315.0,104.4L316.5,103.3L318.0,102.7L319.5,102.2L320.5,102.1L322.5,101.8L325.5,101.7L328.5,101.5L332.5,101.5L359.0,101.8L368.5,101.8L388.0,101.5L392.5,101.5L396.5,101.7L399.0,101.9L401.0,102.3L402.0,102.6L403.0,103.0L403.5,103.2L404.5,103.9L405.7,105.0L406.7,106.0L407.5,107.0L408.3,108.0L408.9,109.0L409.7,110.5L410.3,112.0L410.6,113.0L410.9,114.5L410.9,115.5L410.8,116.0L410.3,117.5L410.0,118.0L409.7,118.5L409.1,119.0L408.0,119.5L406.0,120.0L404.0,120.3L401.5,120.5Z"/>
<path fill="#0000e0" d="M400.0,120.5L395.0,120.7L388.0,120.8L369.0,120.4L359.0,120.4L348.0,120.5L338.5,120.7L332.5,120.8L325.5,120.7L318.0,120.4L315.5,120.2L314.0,119.9L312.0,119.4L311.0,118.9L310.4,118.5L310.0,118.0L309.7,117.5L309.3,116.5L309.2,116.0L309.2,115.0L309.3,114.0L309.5,113.0L310.3,111.0L310.8,110.0L311.6,108.5L312.3,107.5L313.1,106.5L314.0,105.5L315.0,104.5L315.7,104.0L316.5,103.5L317.0,103.2L318.0,102.8L319.5,102.3L320.5,102.1L322.5,101.9L325.5,101.7L328.5,101.6L332.5,101.6L338.5,101.6L349.5,101.8L359.5,101.9L368.5,101.9L388.0,101.6L392.5,101.6L396.0,101.8L399.0,102.0L401.0,102.4L402.0,102.7L403.0,103.1L403.7,103.5L404.5,104.1L405.5,105.0L406.9,106.5L407.7,107.5L408.4,108.5L409.3,110.0L409.7,111.0L410.3,112.5L410.5,113.5L410.7,115.0L410.5,116.0L410.3,117.0L409.8,118.0L409.4,118.5L408.8,119.0L408.0,119.4L407.5,119.5L405.5,120.0L403.5,120.3L400.0,120.5Z"/>
<path fill="#0000e7" d="M398.0,120.5L394.0,120.6L388.0,120.7L368.5,120.4L359.5,120.3L348.5,120.4L338.5,120.6L332.5,120.7L325.0,120.6L317.5,120.3L315.5,120.1L313.5,119.7L312.0,119.3L311.0,118.7L310.7,118.5L310.2,118.0L309.9,117.5L309.7,117.0L309.4,116.0L309.4,115.0L309.4,114.5L309.6,113.5L309.9,112.5L310.2,111.5L310.9,110.0L311.8,108.5L312.5,107.5L313.3,106.5L314.2,105.5L315.5,104.3L317.0,103.3L318.0,102.9L319.0,102.6L320.0,102.3L321.0,102.2L323.5,101.9L326.5,101.7L332.5,101.6L338.5,101.7L349.0,101.9L359.0,102.0L368.5,101.9L379.5,101.7L388.0,101.6L392.5,101.7L396.5,101.9L399.5,102.2L401.5,102.6L403.0,103.2L404.0,103.8L404.8,104.5L405.8,105.5L406.7,106.5L407.9,108.0L408.6,109.0L409.1,110.0L409.8,111.5L410.2,113.0L410.4,114.0L410.5,115.0L410.4,115.5L410.1,117.0L409.9,117.5L409.5,118.1L409.2,118.5L408.5,119.0L407.5,119.4L406.5,119.7L404.5,120.1L402.0,120.3L398.0,120.5Z"/>
<path fill="#0000ed" d="M396.5,120.5L388.0,120.6L368.5,120.3L360.0,120.2L349.0,120.3L338.0,120.6L332.5,120.6L325.5,120.5L318.0,120.2L315.5,120.0L314.0,119.7L312.0,119.1L311.0,118.5L310.4,118.0L310.1,117.5L309.9,117.0L309.6,116.0L309.6,114.5L309.7,113.5L310.0,112.5L310.4,111.5L311.1,110.0L312.3,108.0L313.9,106.0L314.8,105.0L315.5,104.4L316.5,103.7L317.0,103.4L317.5,103.2L319.0,102.7L321.0,102.2L323.0,102.0L326.5,101.8L332.5,101.7L338.5,101.7L349.5,102.0L359.0,102.1L369.0,102.0L379.5,101.8L388.0,101.7L392.5,101.7L396.0,101.9L399.5,102.3L401.5,102.7L403.0,103.3L404.0,104.0L404.7,104.5L405.7,105.5L407.4,107.5L408.1,108.5L408.7,109.5L409.2,110.5L409.8,112.0L410.2,113.5L410.3,114.5L410.1,116.0L409.9,117.0L409.7,117.5L409.4,118.0L408.9,118.5L408.0,119.1L407.0,119.4L406.0,119.7L404.0,120.1L401.0,120.3L396.5,120.5Z"/>
<path fill="#0000f3" d="M394.0,120.5L386.5,120.6L368.5,120.2L360.0,120.1L349.5,120.3L338.0,120.5L332.0,120.6L325.0,120.5L318.0,120.1L315.5,119.9L314.0,119.6L312.1,119.0L311.2,118.5L310.7,118.0L310.3,117.5L310.1,117.0L309.8,116.0L309.8,114.5L309.9,113.5L310.2,112.5L310.7,111.0L311.2,110.0L312.1,108.5L312.8,107.5L313.6,106.5L314.5,105.5L316.0,104.2L316.5,103.8L317.5,103.3L319.5,102.6L321.5,102.3L323.5,102.1L327.0,101.9L332.5,101.7L338.5,101.8L349.0,102.0L360.5,102.2L369.0,102.1L382.5,101.8L390.0,101.7L395.0,101.9L399.0,102.3L401.0,102.7L402.0,103.0L403.0,103.5L403.9,104.0L404.5,104.5L405.1,105.0L406.0,106.0L406.8,107.0L407.9,108.5L408.5,109.5L409.0,110.5L409.4,111.5L409.7,112.5L410.0,114.0L410.0,115.0L410.0,116.0L409.7,117.0L409.5,117.5L409.0,118.2L408.5,118.6L408.0,118.9L407.0,119.3L405.5,119.7L404.0,120.0L401.0,120.2L394.0,120.5Z"/>
<path fill="#0000f9" d="M389.0,120.5L380.0,120.4L368.5,120.1L360.5,120.1L350.0,120.2L338.0,120.4L331.5,120.5L324.5,120.4L318.0,120.1L316.0,119.9L314.5,119.6L313.5,119.4L312.5,119.0L311.5,118.5L310.9,118.0L310.5,117.5L310.2,117.0L310.0,116.0L309.9,115.5L309.9,114.5L310.1,113.5L310.5,112.0L310.9,111.0L311.6,109.5L312.2,108.5L313.3,107.0L314.5,105.6L315.5,104.7L316.0,104.3L317.0,103.7L318.0,103.2L319.5,102.7L321.5,102.3L324.5,102.1L328.5,101.9L333.0,101.8L338.5,101.9L349.5,102.1L362.0,102.2L388.0,101.8L392.5,101.9L396.5,102.1L399.0,102.3L400.5,102.6L402.0,103.1L403.0,103.6L404.0,104.2L405.4,105.5L406.7,107.0L407.7,108.5L408.6,110.0L409.3,111.5L409.7,113.0L409.8,114.0L409.8,115.5L409.7,116.5L409.5,117.0L409.3,117.5L409.0,118.0L408.4,118.5L407.5,119.0L406.5,119.4L405.0,119.7L403.5,119.9L401.0,120.2L397.5,120.3L389.0,120.5Z"/>
<path fill="#0000ff" d="M402.0,120.0L396.0,120.3L388.0,120.4L362.0,120.0L350.0,120.1L338.5,120.4L333.0,120.4L326.0,120.4L319.5,120.1L316.5,119.9L315.0,119.6L314.0,119.4L313.0,119.1L311.7,118.5L311.0,117.9L310.7,117.5L310.4,117.0L310.1,116.0L310.1,114.5L310.2,113.5L310.5,112.5L310.8,111.5L311.3,110.5L311.8,109.5L312.7,108.0L314.3,106.0L315.5,104.8L316.0,104.4L317.0,103.8L318.0,103.3L319.0,103.0L320.0,102.7L321.0,102.5L323.0,102.2L326.0,102.0L328.5,101.9L332.5,101.8L338.5,101.9L349.0,102.2L359.5,102.3L368.5,102.2L380.5,102.0L388.0,101.8L392.0,101.9L395.0,102.0L398.0,102.3L400.0,102.6L401.0,102.9L402.0,103.2L403.0,103.7L403.5,104.0L404.8,105.0L406.1,106.5L407.2,108.0L407.9,109.0L408.4,110.0L408.9,111.0L409.3,112.0L409.5,113.0L409.7,114.0L409.7,115.0L409.6,116.0L409.5,116.5L409.4,117.0L409.0,117.7L408.5,118.3L408.0,118.6L406.5,119.2L404.5,119.7L402.0,120.0Z"/>
<path fill="#0006ff" d="M401.0,120.0L395.0,120.3L388.0,120.4L379.5,120.3L369.0,120.0L362.0,119.9L350.5,120.0L338.5,120.3L333.0,120.4L326.0,120.3L320.0,120.0L317.0,119.8L315.0,119.5L313.5,119.1L312.0,118.5L311.3,118.0L310.9,117.5L310.6,117.0L310.3,116.0L310.2,115.5L310.2,114.5L310.4,113.5L310.6,112.5L311.2,111.0L311.6,110.0L312.8,108.0L313.6,107.0L314.4,106.0L315.5,104.9L316.5,104.2L317.0,103.9L318.0,103.4L319.0,103.0L320.0,102.7L321.0,102.6L323.0,102.3L326.5,102.1L332.5,101.9L338.0,102.0L349.0,102.3L359.5,102.4L368.5,102.3L379.0,102.0L388.0,101.9L392.0,102.0L395.0,102.1L398.0,102.4L400.0,102.7L401.0,103.0L402.0,103.3L403.0,103.8L403.5,104.1L404.5,104.9L405.2,105.5L406.8,107.5L407.7,109.0L408.3,110.0L408.9,111.5L409.2,112.5L409.4,113.5L409.5,114.5L409.5,115.5L409.4,116.5L409.2,117.0L409.0,117.5L408.6,118.0L408.0,118.5L407.5,118.7L406.5,119.1L405.5,119.4L404.0,119.7L401.0,120.0Z"/>
<path fill="#000cff" d="M400.0,120.0L395.0,120.2L388.0,120.3L379.5,120.2L368.5,119.9L359.0,119.8L348.0,120.0L338.5,120.3L333.0,120.3L326.0,120.2L319.5,119.9L316.5,119.7L315.0,119.4L313.4,119.0L312.0,118.3L311.5,118.0L311.1,117.5L310.8,117.0L310.5,116.0L310.4,115.5L310.4,114.5L310.5,113.5L310.8,112.5L311.3,111.0L311.8,110.0L312.3,109.0L313.3,107.5L314.5,106.1L315.6,105.0L316.2,104.5L317.0,104.0L318.0,103.5L319.0,103.1L320.0,102.8L321.0,102.6L323.5,102.3L326.5,102.1L332.5,102.0L338.5,102.0L349.0,102.3L359.5,102.5L368.5,102.4L379.5,102.1L388.0,102.0L392.0,102.0L395.0,102.2L398.0,102.4L399.5,102.7L400.5,102.9L401.5,103.2L402.5,103.6L403.2,104.0L403.9,104.5L404.5,105.0L405.5,106.0L406.3,107.0L407.3,108.5L408.4,110.5L408.8,111.5L409.1,112.5L409.3,113.5L409.4,114.5L409.3,116.0L409.1,117.0L408.8,117.5L408.4,118.0L407.5,118.6L406.6,119.0L405.5,119.3L403.5,119.7L400.0,120.0Z"/>
<path fill="#0012ff" d="M399.0,120.0L394.5,120.2L388.0,120.3L380.0,120.2L368.5,119.9L359.5,119.8L348.5,119.9L338.5,120.2L333.0,120.3L326.0,120.2L320.0,119.9L317.5,119.7L315.5,119.5L314.0,119.1L312.5,118.5L312.0,118.2L311.5,117.8L310.9,117.0L310.6,116.0L310.5,115.5L310.5,114.5L310.7,113.5L310.9,112.5L311.2,111.5L311.7,110.5L312.2,109.5L313.1,108.0L313.8,107.0L314.7,106.0L316.0,104.8L316.5,104.4L317.5,103.8L318.5,103.4L319.5,103.1L320.5,102.8L321.5,102.6L324.0,102.4L327.0,102.2L332.5,102.0L338.5,102.1L349.5,102.4L360.0,102.5L368.5,102.4L379.5,102.1L388.0,102.0L392.0,102.1L394.5,102.2L397.5,102.4L400.0,102.8L401.5,103.3L402.5,103.7L403.5,104.3L404.5,105.1L405.4,106.0L406.2,107.0L406.9,108.0L407.7,109.5L408.2,110.5L408.6,111.5L408.9,112.5L409.2,113.5L409.3,114.5L409.2,116.0L408.9,117.0L408.6,117.5L408.0,118.1L407.4,118.5L406.5,118.9L405.0,119.4L402.5,119.7L399.0,120.0Z"/>
<path fill="#0018ff" d="M397.5,120.0L394.0,120.2L388.0,120.2L380.0,120.1L368.5,119.8L359.5,119.7L349.0,119.8L338.5,120.1L332.5,120.2L326.0,120.1L320.0,119.8L317.5,119.6L315.5,119.4L314.0,119.0L312.5,118.3L312.0,118.0L311.5,117.6L311.1,117.0L310.7,116.0L310.7,115.5L310.7,114.5L310.8,113.5L311.0,112.5L311.4,111.5L311.8,110.5L312.3,109.5L313.2,108.0L313.9,107.0L314.8,106.0L316.0,104.9L317.0,104.2L317.5,103.9L318.5,103.5L319.5,103.1L320.5,102.9L321.5,102.7L324.0,102.4L327.0,102.2L332.5,102.1L338.5,102.2L349.5,102.5L360.0,102.6L369.0,102.5L379.5,102.2L388.0,102.1L392.0,102.1L394.5,102.3L398.0,102.6L400.0,102.9L401.0,103.2L402.5,103.8L403.5,104.4L404.0,104.8L404.8,105.5L405.7,106.5L406.7,108.0L407.3,109.0L408.3,111.0L408.8,112.5L409.0,113.5L409.2,115.0L409.1,116.0L408.9,116.5L408.7,117.0L408.4,117.5L408.0,118.0L407.5,118.3L405.9,119.0L405.0,119.3L404.0,119.5L401.0,119.8L397.5,120.0Z"/>
<path fill="#001eff" d="M396.5,120.0L388.0,120.2L380.0,120.0L368.5,119.7L360.0,119.6L349.0,119.8L338.5,120.1L332.5,120.2L326.0,120.1L320.0,119.8L317.5,119.6L315.5,119.3L314.0,118.9L312.5,118.2L312.0,117.8L311.6,117.5L311.3,117.0L311.0,116.5L310.8,115.5L310.8,114.5L310.9,113.5L311.1,112.5L311.7,111.0L312.1,110.0L313.3,108.0L314.1,107.0L314.9,106.0L316.0,105.0L317.0,104.3L317.6,104.0L319.5,103.2L320.5,102.9L321.5,102.8L323.5,102.5L327.0,102.3L332.5,102.1L338.5,102.2L349.0,102.5L360.0,102.7L369.0,102.6L379.5,102.3L388.0,102.1L392.0,102.2L394.5,102.3L398.0,102.6L399.5,102.9L400.5,103.1L401.5,103.5L402.5,103.9L403.5,104.5L404.0,104.9L404.7,105.5L405.6,106.5L406.3,107.5L407.2,109.0L407.8,110.0L408.4,111.5L408.8,113.0L409.0,114.0L409.0,115.5L408.8,116.5L408.6,117.0L408.3,117.5L408.0,117.8L407.5,118.2L406.9,118.5L405.5,119.0L404.5,119.3L403.5,119.5L400.5,119.8L396.5,120.0Z"/>
<path fill="#0021ff" d="M396.0,120.0L388.0,120.2L380.0,120.0L368.5,119.7L360.0,119.6L349.0,119.8L338.5,120.1L332.5,120.2L326.0,120.0L320.0,119.7L317.5,119.5L315.5,119.3L314.0,118.8L312.5,118.1L311.7,117.5L311.3,117.0L311.1,116.5L310.9,115.5L310.8,114.5L311.0,113.5L311.2,112.5L311.7,111.0L312.2,110.0L313.4,108.0L314.1,107.0L315.0,106.0L315.5,105.5L316.5,104.7L317.6,104.0L319.5,103.2L320.5,103.0L321.5,102.8L323.5,102.6L327.0,102.3L332.5,102.1L338.5,102.2L349.0,102.5L360.0,102.7L369.0,102.6L379.5,102.3L388.0,102.1L392.0,102.2L394.5,102.3L398.0,102.7L399.5,102.9L400.5,103.2L401.5,103.5L402.5,104.0L403.4,104.5L404.0,104.9L404.6,105.5L405.5,106.5L406.3,107.5L407.2,109.0L407.7,110.0L408.3,111.5L408.8,113.0L408.9,114.0L409.0,115.5L408.8,116.5L408.5,117.0L408.0,117.7L407.5,118.1L406.8,118.5L405.5,119.0L404.5,119.3L403.5,119.4L400.5,119.8L396.0,120.0Z"/>
<path fill="#0036ff" d="M400.5,119.5L395.0,119.8L388.0,120.0L379.5,119.8L369.0,119.5L361.5,119.4L349.9,119.5L343.5,119.7L338.5,119.9L333.5,120.0L327.0,119.9L323.0,119.7L319.5,119.5L317.0,119.2L315.5,118.9L314.0,118.5L313.1,118.0L312.5,117.6L311.9,117.0L311.6,116.5L311.4,116.0L311.3,115.5L311.3,114.5L311.4,113.5L311.6,112.5L311.9,111.5L312.3,110.5L313.4,108.5L314.1,107.5L315.0,106.4L315.9,105.5L316.5,105.0L318.0,104.1L319.0,103.7L320.0,103.4L322.0,103.0L324.0,102.7L327.5,102.5L332.5,102.3L338.5,102.4L349.0,102.8L360.0,102.9L368.5,102.8L378.5,102.5L387.0,102.3L390.0,102.4L393.5,102.5L397.0,102.8L399.5,103.2L400.5,103.4L401.5,103.8L403.0,104.6L404.2,105.5L405.0,106.3L405.6,107.0L406.3,108.0L406.8,109.0L407.8,111.0L408.1,112.0L408.4,113.0L408.6,114.5L408.5,115.5L408.4,116.0L408.3,116.5L408.0,117.0L407.6,117.5L407.0,117.9L406.5,118.2L405.5,118.7L404.5,119.0L403.5,119.2L400.5,119.5Z"/>
<path fill="#004cff" d="M397.5,119.5L394.0,119.7L388.0,119.8L379.5,119.6L369.0,119.2L360.5,119.1L349.0,119.3L343.0,119.5L338.5,119.7L333.0,119.8L326.5,119.7L322.0,119.4L319.0,119.2L316.5,118.9L315.0,118.5L313.9,118.0L313.0,117.4L312.5,117.0L312.1,116.5L311.9,116.0L311.7,115.5L311.7,115.0L311.7,114.0L311.8,113.0L312.1,112.0L312.4,111.0L312.9,110.0L313.4,109.0L314.1,108.0L314.8,107.0L315.5,106.3L316.4,105.5L317.0,105.0L318.5,104.2L320.0,103.6L321.0,103.4L322.5,103.1L327.5,102.7L332.5,102.5L338.5,102.6L343.5,102.8L349.0,103.0L360.0,103.2L369.0,103.1L378.5,102.7L386.5,102.5L389.5,102.5L393.5,102.7L397.0,103.0L399.5,103.4L400.5,103.7L401.5,104.1L403.1,105.0L403.8,105.5L404.5,106.2L405.2,107.0L405.9,108.0L406.8,109.5L407.3,110.5L407.6,111.5L407.9,112.5L408.1,113.5L408.2,114.5L408.1,115.5L408.0,116.0L407.8,116.5L407.5,117.0L406.9,117.5L406.5,117.8L406.0,118.1L405.0,118.5L403.5,118.9L401.0,119.2L397.5,119.5Z"/>
<path fill="#0061ff" d="M393.5,119.5L388.5,119.6L385.0,119.6L377.5,119.4L369.0,119.0L361.0,118.9L349.5,119.1L343.5,119.3L338.5,119.5L333.5,119.6L327.0,119.5L323.0,119.3L320.0,119.1L317.5,118.8L316.0,118.5L314.6,118.0L313.5,117.3L313.1,117.0L312.7,116.5L312.4,116.0L312.2,115.5L312.1,115.0L312.0,114.0L312.2,113.0L312.4,112.0L312.8,111.0L313.2,110.0L313.8,109.0L314.5,107.9L315.2,107.0L316.2,106.0L317.0,105.4L318.0,104.8L319.0,104.2L320.0,103.9L322.0,103.4L324.5,103.1L328.5,102.8L333.0,102.7L338.5,102.8L343.5,103.0L349.5,103.2L357.0,103.4L361.5,103.4L369.0,103.3L382.0,102.8L389.5,102.7L394.0,102.9L396.5,103.1L398.0,103.3L399.5,103.7L400.5,103.9L401.5,104.4L402.5,104.9L403.4,105.5L404.0,106.0L405.0,107.1L405.6,108.0L406.2,109.0L407.0,110.5L407.3,111.5L407.6,112.5L407.9,114.0L407.8,115.0L407.8,115.5L407.6,116.0L407.3,116.5L406.9,117.0L406.5,117.3L405.5,117.9L404.5,118.3L403.5,118.6L401.5,118.9L399.5,119.2L396.5,119.4L393.5,119.5Z"/>
<path fill="#0077ff" d="M398.5,119.0L394.0,119.3L388.0,119.4L379.5,119.2L368.5,118.8L360.0,118.6L348.5,118.9L343.5,119.1L338.5,119.3L334.5,119.4L330.0,119.4L325.0,119.2L321.0,118.9L318.5,118.7L316.5,118.3L315.4,118.0L314.5,117.6L314.0,117.2L313.5,116.8L313.0,116.2L312.6,115.5L312.5,115.1L312.4,114.0L312.5,113.0L312.7,112.0L313.1,111.0L313.5,110.0L314.1,109.0L314.7,108.0L316.0,106.5L316.6,106.0L317.5,105.4L318.5,104.8L319.5,104.3L321.0,103.9L323.0,103.5L327.5,103.0L332.5,102.9L338.5,103.0L343.5,103.2L349.5,103.5L360.0,103.7L369.0,103.5L378.0,103.1L386.0,102.9L389.0,102.9L393.0,103.0L396.5,103.3L399.0,103.8L400.5,104.2L401.5,104.6L402.2,105.0L403.6,106.0L404.1,106.5L405.0,107.5L405.7,108.5L406.2,109.5L406.7,110.5L407.1,111.5L407.3,112.5L407.5,113.5L407.5,114.5L407.5,115.0L407.4,115.5L407.1,116.0L406.8,116.5L406.3,117.0L405.6,117.5L405.0,117.8L403.5,118.3L401.5,118.7L398.5,119.0Z"/>
<path fill="#008dff" d="M396.0,119.0L392.5,119.2L388.0,119.3L379.5,119.0L368.5,118.6L360.5,118.4L349.0,118.6L343.0,118.9L338.5,119.1L334.5,119.2L330.0,119.2L325.0,119.0L321.0,118.7L318.5,118.4L316.5,118.0L315.5,117.7L315.0,117.5L314.3,117.0L313.7,116.5L313.3,116.0L313.0,115.5L312.9,115.0L312.8,114.5L312.8,113.5L313.0,112.0L313.4,111.0L313.8,110.0L314.4,109.0L315.0,108.0L315.9,107.0L316.4,106.5L318.0,105.3L319.5,104.5L321.0,104.1L323.5,103.6L328.0,103.2L332.5,103.0L338.5,103.2L343.5,103.4L349.5,103.7L360.0,103.9L369.0,103.7L378.5,103.3L385.5,103.1L389.0,103.0L393.0,103.2L396.5,103.5L399.0,104.0L400.0,104.3L401.0,104.7L402.5,105.5L403.2,106.0L404.0,106.7L404.7,107.5L405.4,108.5L405.9,109.5L406.4,110.5L406.8,111.5L407.1,112.5L407.2,114.0L407.1,115.0L407.0,115.5L406.7,116.0L406.3,116.5L405.7,117.0L405.0,117.5L403.7,118.0L402.0,118.4L399.5,118.7L396.0,119.0Z"/>
<path fill="#00a2ff" d="M392.5,119.0L388.0,119.1L384.0,119.0L377.0,118.8L369.0,118.4L361.0,118.2L357.0,118.2L349.0,118.4L343.5,118.7L338.5,119.0L334.5,119.1L330.0,119.1L325.0,118.9L321.5,118.6L319.0,118.3L317.0,117.9L315.8,117.5L314.9,117.0L314.3,116.5L313.8,116.0L313.5,115.5L313.3,115.0L313.1,114.5L313.1,113.5L313.2,112.5L313.5,111.5L314.1,110.0L314.7,109.0L315.4,108.0L316.0,107.3L316.8,106.5L318.0,105.6L319.5,104.8L321.0,104.3L323.5,103.9L327.5,103.4L331.5,103.2L335.0,103.2L338.5,103.3L343.0,103.6L349.0,103.9L360.5,104.1L369.0,103.9L376.5,103.6L383.5,103.3L388.0,103.2L391.5,103.3L393.5,103.4L396.0,103.7L398.0,104.0L399.5,104.4L400.5,104.7L401.5,105.2L402.5,105.8L403.4,106.5L404.5,107.7L405.4,109.0L406.2,110.5L406.7,112.0L406.9,113.5L406.9,114.5L406.7,115.0L406.5,115.5L406.0,116.2L405.2,117.0L404.5,117.4L403.5,117.8L402.0,118.2L400.0,118.5L398.0,118.7L395.0,118.9L392.5,119.0Z"/>
<path fill="#00b8ff" d="M397.5,118.5L394.0,118.8L388.0,118.9L379.5,118.7L368.5,118.1L360.0,118.0L348.5,118.2L343.0,118.5L338.5,118.8L335.0,118.9L331.0,118.9L325.5,118.7L322.0,118.4L319.5,118.1L317.5,117.7L316.6,117.5L316.0,117.3L315.4,117.0L314.8,116.5L314.3,116.0L313.9,115.5L313.7,115.0L313.5,114.5L313.4,114.0L313.4,113.0L313.8,111.5L314.2,110.5L314.7,109.5L315.3,108.5L316.0,107.6L316.6,107.0L317.5,106.3L319.0,105.3L320.5,104.7L322.5,104.2L325.5,103.8L329.0,103.5L332.0,103.4L334.0,103.4L338.5,103.5L343.5,103.8L349.5,104.1L357.0,104.3L361.0,104.3L369.0,104.1L378.0,103.7L385.5,103.4L388.5,103.4L393.0,103.5L396.0,103.9L398.0,104.2L400.0,104.7L401.5,105.4L402.4,106.0L403.0,106.5L404.0,107.5L404.4,108.0L405.0,108.8L405.5,109.7L405.9,110.5L406.2,111.5L406.6,113.0L406.6,114.0L406.5,114.5L406.3,115.0L406.1,115.5L405.8,116.0L405.3,116.5L404.6,117.0L404.0,117.3L402.5,117.8L400.5,118.2L397.5,118.5Z"/>
<path fill="#00cdff" d="M395.5,118.5L391.0,118.7L387.0,118.7L379.0,118.5L368.5,117.9L360.5,117.7L356.5,117.8L349.0,118.0L343.5,118.3L338.5,118.6L335.0,118.7L331.0,118.7L326.0,118.6L322.5,118.3L319.5,117.9L317.5,117.5L316.1,117.0L315.3,116.5L314.7,116.0L314.4,115.5L313.9,114.5L313.8,114.0L313.8,113.0L314.1,111.5L314.4,110.5L315.0,109.4L316.0,108.0L317.0,107.0L318.0,106.2L319.5,105.3L321.0,104.8L323.0,104.3L326.0,103.9L329.5,103.6L332.0,103.5L334.0,103.5L338.5,103.7L343.5,104.0L349.5,104.3L357.0,104.5L361.0,104.6L369.0,104.4L377.5,103.9L384.5,103.6L388.0,103.5L392.5,103.7L395.5,104.0L398.0,104.4L400.0,105.0L401.5,105.7L402.5,106.4L403.2,107.0L404.0,107.9L404.5,108.5L405.0,109.3L405.5,110.2L405.8,111.0L406.1,112.0L406.3,113.0L406.3,113.5L406.1,114.5L405.9,115.0L405.5,115.7L405.0,116.3L404.5,116.7L403.5,117.2L402.6,117.5L401.5,117.8L399.0,118.2L395.5,118.5Z"/>
<path fill="#00e3ff" d="M392.5,118.5L388.0,118.6L383.5,118.5L376.5,118.2L369.0,117.7L360.5,117.5L356.5,117.6L349.0,117.8L343.5,118.1L338.5,118.4L335.0,118.6L331.0,118.6L326.0,118.4L323.0,118.1L320.0,117.7L318.0,117.4L316.5,116.9L316.0,116.6L315.5,116.3L314.8,115.5L314.3,114.5L314.2,114.0L314.1,113.0L314.2,112.0L314.5,111.0L315.0,110.0L315.5,109.1L316.0,108.4L316.8,107.5L317.9,106.5L318.7,106.0L320.0,105.3L322.0,104.7L325.0,104.2L328.5,103.9L332.5,103.7L336.0,103.8L339.0,103.9L343.0,104.2L348.5,104.5L356.5,104.7L360.5,104.8L364.0,104.7L369.0,104.6L375.0,104.2L382.5,103.8L388.0,103.7L390.0,103.7L394.0,104.0L396.5,104.3L398.0,104.6L399.4,105.0L400.5,105.4L401.5,106.0L402.5,106.7L403.5,107.7L404.5,108.9L405.1,110.0L405.7,111.5L406.0,113.0L405.9,114.0L405.6,115.0L405.0,115.8L404.3,116.5L403.5,116.9L402.5,117.3L401.0,117.7L399.0,118.0L397.0,118.2L395.0,118.4L392.5,118.5Z"/>
<path fill="#00f9ff" d="M397.0,118.0L393.5,118.3L388.0,118.4L379.5,118.2L368.5,117.5L363.5,117.3L360.0,117.3L356.0,117.4L348.5,117.6L343.0,117.9L338.5,118.3L335.5,118.4L332.0,118.4L326.5,118.2L323.5,118.0L320.0,117.5L318.0,117.1L316.5,116.6L315.7,116.0L315.2,115.5L314.9,115.0L314.5,114.0L314.4,113.0L314.5,112.0L314.7,111.5L315.0,110.5L315.6,109.5L316.3,108.5L317.0,107.7L317.7,107.0L318.5,106.4L319.1,106.0L320.0,105.6L321.5,105.1L323.5,104.7L327.0,104.2L328.5,104.0L331.5,103.9L335.0,103.9L338.5,104.0L343.5,104.4L349.0,104.7L356.5,105.0L360.5,105.0L364.0,105.0L369.0,104.8L377.5,104.3L384.5,104.0L388.0,103.9L392.5,104.0L395.0,104.3L397.5,104.7L399.5,105.3L401.0,105.9L401.9,106.5L402.5,107.0L403.0,107.5L403.9,108.5L404.8,110.0L405.4,111.5L405.5,112.0L405.6,113.0L405.5,114.0L405.4,114.5L405.2,115.0L404.9,115.5L404.4,116.0L404.0,116.3L403.0,116.8L401.5,117.3L399.5,117.7L397.0,118.0Z"/>
<path fill="#0ffff0" d="M395.0,118.0L389.5,118.3L386.0,118.2L378.5,117.9L369.0,117.3L364.0,117.1L360.5,117.0L356.5,117.1L349.0,117.4L343.5,117.7L338.5,118.1L335.5,118.2L332.0,118.3L326.5,118.1L323.5,117.8L320.5,117.4L318.5,117.0L317.0,116.5L316.5,116.2L316.0,115.9L315.6,115.5L315.3,115.0L314.9,114.0L314.8,113.5L314.8,112.5L314.9,112.0L315.1,111.0L315.6,110.0L316.2,109.0L317.0,108.0L317.5,107.5L318.0,107.0L319.0,106.3L320.0,105.8L322.0,105.2L324.5,104.7L327.5,104.3L332.0,104.0L335.5,104.1L338.5,104.2L343.5,104.6L349.0,104.9L356.5,105.2L360.5,105.3L364.0,105.2L369.0,105.0L377.5,104.4L384.5,104.1L388.0,104.0L392.5,104.2L395.0,104.5L397.5,104.9L399.5,105.5L401.0,106.2L401.5,106.5L402.5,107.3L403.6,108.5L404.3,109.5L404.8,110.5L405.2,112.0L405.3,113.0L405.3,113.5L405.0,114.5L404.8,115.0L404.4,115.5L404.0,115.9L403.5,116.3L403.0,116.5L402.0,116.9L400.5,117.3L398.0,117.7L395.0,118.0Z"/>
<path fill="#25ffda" d="M392.0,118.0L388.0,118.1L383.0,118.0L375.5,117.6L369.0,117.1L364.0,116.9L360.5,116.8L356.5,116.9L349.0,117.2L343.5,117.5L338.5,117.9L335.5,118.1L332.0,118.1L326.5,117.9L323.5,117.6L320.5,117.2L318.5,116.7L317.0,116.2L316.5,115.9L316.1,115.5L315.5,114.7L315.2,114.0L315.1,113.5L315.1,112.5L315.3,111.5L315.6,110.5L316.5,109.0L317.3,108.0L317.8,107.5L318.5,106.9L319.5,106.3L321.0,105.7L323.5,105.1L327.0,104.5L329.5,104.3L333.0,104.2L336.5,104.3L339.0,104.4L343.5,104.8L349.0,105.1L356.5,105.4L360.5,105.5L364.0,105.4L369.0,105.2L374.5,104.8L382.5,104.4L388.0,104.2L390.5,104.2L392.5,104.4L394.5,104.6L396.5,104.9L398.0,105.2L399.5,105.7L400.5,106.1L401.5,106.8L402.5,107.6L403.3,108.5L404.0,109.5L404.7,111.0L404.9,112.0L405.0,113.0L404.9,114.0L404.5,114.9L404.0,115.5L403.4,116.0L402.5,116.5L401.5,116.8L400.0,117.2L398.1,117.5L396.0,117.8L392.0,118.0Z"/>
<path fill="#3affc5" d="M396.5,117.5L393.5,117.8L388.0,118.0L379.0,117.6L368.5,116.8L363.5,116.6L360.0,116.6L356.0,116.7L349.0,117.0L343.5,117.3L338.5,117.8L335.5,117.9L332.0,118.0L327.0,117.8L324.3,117.5L320.9,117.0L318.7,116.5L317.3,116.0L316.5,115.5L316.0,115.0L315.7,114.5L315.5,114.0L315.4,113.5L315.4,112.5L315.5,112.0L315.7,111.0L316.5,109.5L317.0,108.7L317.6,108.0L318.1,107.5L319.0,106.8L319.6,106.5L320.5,106.1L322.0,105.6L324.5,105.1L327.5,104.6L332.0,104.4L335.5,104.4L338.5,104.5L343.5,105.0L349.0,105.3L356.5,105.7L360.5,105.7L364.0,105.7L369.0,105.4L376.5,104.9L383.5,104.5L388.0,104.3L392.0,104.5L394.5,104.8L397.0,105.2L399.0,105.8L400.5,106.4L401.5,107.0L402.0,107.4L403.0,108.5L403.7,109.5L404.4,111.0L404.6,112.0L404.7,112.5L404.7,113.5L404.3,114.5L404.0,115.0L403.5,115.6L402.5,116.2L401.0,116.7L399.0,117.2L396.5,117.5Z"/>
<path fill="#50ffaf" d="M395.0,117.5L389.5,117.8L386.0,117.7L378.5,117.4L368.5,116.6L363.5,116.4L360.5,116.3L356.5,116.4L349.0,116.7L343.0,117.2L339.0,117.6L335.5,117.7L332.0,117.8L327.0,117.6L324.5,117.3L321.5,116.9L319.6,116.5L318.0,116.0L317.0,115.5L316.5,115.0L316.1,114.5L315.9,114.0L315.8,113.5L315.7,112.5L315.8,112.0L316.0,111.0L316.2,110.5L316.7,109.5L317.5,108.5L317.9,108.0L318.5,107.5L319.2,107.0L320.5,106.3L322.5,105.7L325.5,105.1L328.0,104.7L332.0,104.5L335.5,104.6L338.5,104.7L343.5,105.2L349.0,105.6L356.5,105.9L360.5,106.0L364.0,105.9L369.0,105.7L376.0,105.1L383.0,104.7L388.0,104.5L391.5,104.6L394.0,104.9L397.0,105.4L399.0,106.0L400.5,106.6L401.1,107.0L401.7,107.5L402.7,108.5L403.1,109.0L403.7,110.0L404.1,111.0L404.2,111.5L404.4,112.5L404.4,113.0L404.2,114.0L404.0,114.5L403.6,115.0L403.0,115.6L402.2,116.0L401.5,116.3L400.0,116.7L398.0,117.1L395.0,117.5Z"/>
<path fill="#66ff99" d="M392.0,117.5L388.0,117.6L383.0,117.5L375.7,117.0L369.0,116.4L364.0,116.1L360.5,116.1L356.5,116.2L348.5,116.6L343.5,116.9L339.0,117.4L336.0,117.6L332.5,117.6L327.5,117.4L324.5,117.2L321.5,116.7L319.5,116.2L318.0,115.7L317.5,115.4L317.0,115.1L316.5,114.5L316.2,114.0L316.1,113.5L316.0,112.5L316.0,112.0L316.3,111.0L316.7,110.0L317.0,109.5L317.5,108.8L318.3,108.0L319.0,107.4L319.6,107.0L320.5,106.6L321.5,106.2L322.5,105.9L324.3,105.5L327.5,105.0L331.0,104.7L333.0,104.7L337.5,104.8L339.5,105.0L343.5,105.4L348.5,105.7L356.5,106.1L360.5,106.2L364.0,106.2L369.0,105.9L374.5,105.4L382.5,104.9L388.0,104.7L390.5,104.7L392.5,104.9L394.5,105.1L396.5,105.5L398.0,105.9L399.5,106.4L400.5,106.9L401.5,107.6L402.4,108.5L403.0,109.3L403.4,110.0L403.8,111.0L404.1,112.0L404.1,113.0L403.9,114.0L403.5,114.6L403.0,115.2L402.5,115.5L401.5,116.0L400.0,116.5L399.0,116.7L395.5,117.3L392.0,117.5Z"/>
<path fill="#7bff84" d="M396.0,117.0L394.0,117.2L391.5,117.4L388.5,117.5L387.0,117.5L382.5,117.3L378.5,117.0L374.0,116.7L368.5,116.1L363.5,115.9L360.0,115.8L356.5,115.9L348.5,116.3L343.0,116.8L339.0,117.2L336.5,117.4L332.5,117.5L328.0,117.3L325.0,117.0L322.0,116.6L320.0,116.1L318.5,115.6L317.5,115.1L316.9,114.5L316.6,114.0L316.4,113.5L316.3,112.5L316.3,112.0L316.6,111.0L317.0,110.1L317.3,109.5L318.0,108.6L318.5,108.1L319.5,107.3L321.0,106.6L323.0,106.0L325.5,105.5L328.0,105.1L332.5,104.8L336.0,104.9L339.0,105.1L343.5,105.6L348.5,106.0L356.5,106.4L360.5,106.5L364.0,106.4L369.0,106.1L375.7,105.5L382.5,105.0L388.0,104.8L390.5,104.9L393.0,105.1L395.0,105.4L397.5,105.9L399.2,106.5L400.5,107.2L401.6,108.0L402.5,109.0L403.0,109.8L403.4,110.5L403.7,111.5L403.8,112.0L403.8,113.0L403.7,113.5L403.5,114.0L403.2,114.5L402.7,115.0L402.0,115.5L401.5,115.7L400.0,116.3L398.5,116.6L396.0,117.0Z"/>
<path fill="#91ff6e" d="M394.5,117.0L389.0,117.3L385.0,117.2L377.5,116.8L368.5,115.9L364.0,115.6L360.5,115.6L356.5,115.7L348.5,116.1L343.0,116.6L339.0,117.0L336.5,117.2L332.5,117.3L328.0,117.1L325.5,116.9L322.9,116.5L320.5,116.0L319.0,115.5L318.0,115.0L317.4,114.5L317.0,114.0L316.8,113.5L316.6,112.5L316.7,111.5L317.0,110.7L317.3,110.0L318.0,109.0L318.4,108.5L319.0,108.0L319.5,107.6L320.7,107.0L322.5,106.3L325.5,105.6L328.0,105.3L332.5,105.0L336.0,105.1L339.0,105.3L343.5,105.8L349.0,106.2L356.5,106.6L360.5,106.7L364.0,106.7L369.0,106.4L374.5,105.8L382.0,105.2L388.0,105.0L390.5,105.1L393.0,105.3L395.5,105.7L397.5,106.1L398.5,106.5L399.5,106.9L400.6,107.5L401.2,108.0L401.8,108.5L402.6,109.5L403.0,110.3L403.3,111.0L403.5,112.0L403.5,112.5L403.4,113.5L403.0,114.2L402.8,114.5L402.2,115.0L401.0,115.6L399.5,116.2L397.0,116.7L394.5,117.0Z"/>
<path fill="#a6ff59" d="M392.0,117.0L388.0,117.2L382.5,116.9L375.0,116.3L369.0,115.7L364.0,115.4L360.5,115.3L357.0,115.4L349.0,115.8L343.5,116.3L339.0,116.9L336.5,117.0L332.5,117.2L327.5,116.9L325.0,116.7L322.5,116.2L320.5,115.7L319.0,115.2L318.0,114.6L317.4,114.0L317.1,113.5L317.0,113.0L316.9,112.0L317.0,111.5L317.4,110.5L317.9,109.5L318.3,109.0L318.8,108.5L319.5,107.9L321.0,107.1L323.0,106.4L326.5,105.6L328.5,105.4L332.0,105.2L334.5,105.2L338.0,105.4L339.6,105.5L343.0,105.9L348.5,106.4L356.5,106.9L360.5,107.0L364.0,106.9L368.5,106.7L374.5,106.0L381.5,105.4L388.0,105.1L390.0,105.2L392.5,105.4L394.0,105.6L396.0,106.0L397.5,106.4L399.0,106.9L400.1,107.5L401.0,108.1L401.9,109.0L402.5,109.9L402.8,110.5L403.0,111.1L403.2,112.0L403.1,113.0L403.0,113.5L402.7,114.0L402.3,114.5L401.6,115.0L401.0,115.3L400.0,115.8L399.0,116.1L397.0,116.5L395.5,116.7L392.0,117.0Z"/>
<path fill="#bcff43" d="M395.5,116.5L393.5,116.7L390.0,117.0L388.0,117.0L386.0,116.9L382.0,116.7L378.0,116.4L374.0,116.0L368.5,115.4L363.5,115.1L360.0,115.0L356.0,115.1L348.5,115.6L343.5,116.1L339.5,116.6L337.5,116.8L333.0,117.0L329.5,116.9L327.0,116.7L324.5,116.4L321.5,115.7L320.5,115.5L319.5,115.1L318.5,114.5L317.9,114.0L317.5,113.5L317.3,113.0L317.2,112.5L317.3,112.0L317.5,111.0L318.0,109.9L318.5,109.2L319.0,108.6L320.0,107.9L321.5,107.2L323.5,106.5L326.0,105.9L328.5,105.5L332.5,105.3L336.5,105.4L339.0,105.6L343.5,106.2L349.0,106.7L356.5,107.2L360.5,107.3L364.0,107.2L369.0,106.9L374.5,106.2L381.5,105.6L388.0,105.3L390.0,105.4L392.5,105.6L394.5,105.8L397.0,106.4L398.5,106.9L399.6,107.5L400.4,108.0L401.0,108.4L401.5,108.9L401.9,109.5L402.5,110.5L402.8,111.5L402.9,112.0L402.9,112.5L402.8,113.0L402.5,113.7L402.3,114.0L401.8,114.5L401.0,115.0L399.5,115.7L398.0,116.1L395.5,116.5Z"/>
<path fill="#d2ff2d" d="M394.0,116.5L391.0,116.7L388.0,116.8L383.5,116.6L380.0,116.4L375.8,116.0L368.5,115.1L363.5,114.8L360.5,114.7L357.0,114.8L349.5,115.3L343.5,115.9L339.5,116.4L337.5,116.6L333.0,116.8L329.5,116.7L326.7,116.5L324.5,116.2L321.5,115.5L320.0,115.0L319.0,114.5L318.4,114.0L318.0,113.6L317.7,113.0L317.6,112.5L317.6,112.0L317.8,111.0L318.0,110.4L318.5,109.6L319.0,109.0L319.6,108.5L320.4,108.0L321.5,107.4L323.5,106.7L326.5,106.0L328.5,105.7L332.5,105.5L336.5,105.6L339.0,105.8L343.0,106.4L349.0,106.9L356.5,107.5L360.5,107.6L363.5,107.5L368.5,107.2L374.5,106.4L381.5,105.8L388.0,105.5L390.0,105.5L392.5,105.7L394.5,106.0L396.5,106.5L398.5,107.2L400.0,108.0L401.0,108.8L401.5,109.4L401.9,110.0L402.4,111.0L402.6,112.0L402.5,112.5L402.4,113.0L402.2,113.5L401.8,114.0L401.0,114.7L400.0,115.2L398.5,115.7L396.5,116.2L394.0,116.5Z"/>
<path fill="#e7ff18" d="M392.0,116.5L388.0,116.7L382.5,116.4L378.5,116.1L374.5,115.6L368.5,114.8L363.5,114.4L360.5,114.3L357.0,114.5L348.5,115.1L343.5,115.7L339.5,116.3L337.5,116.5L333.0,116.7L329.5,116.5L327.0,116.3L325.0,116.1L322.4,115.5L320.8,115.0L319.5,114.4L318.9,114.0L318.5,113.6L318.1,113.0L318.0,112.5L317.9,112.0L318.0,111.4L318.3,110.5L318.6,110.0L319.0,109.5L319.5,109.0L320.1,108.5L320.9,108.0L322.0,107.5L324.0,106.8L327.0,106.1L329.0,105.9L332.5,105.6L335.0,105.7L338.5,105.9L343.5,106.6L350.5,107.3L357.0,107.8L360.5,107.9L364.0,107.8L369.0,107.4L374.5,106.7L381.0,106.0L388.0,105.6L389.5,105.7L392.0,105.9L393.5,106.0L395.5,106.4L397.0,106.9L398.5,107.4L399.5,108.0L400.5,108.7L401.3,109.5L401.6,110.0L402.0,110.8L402.2,111.5L402.2,112.0L402.2,112.5L402.0,113.1L401.8,113.5L401.5,113.8L401.0,114.3L400.5,114.6L399.5,115.1L398.5,115.5L397.5,115.7L395.0,116.2L392.0,116.5Z"/>
<path fill="#fdff02" d="M388.0,116.5L383.5,116.3L379.9,116.0L374.5,115.4L369.0,114.6L364.0,114.1L360.5,114.0L357.0,114.1L349.5,114.8L343.5,115.4L340.0,116.0L338.0,116.2L333.0,116.5L329.0,116.3L326.5,116.1L324.5,115.7L322.0,115.1L320.5,114.6L319.5,114.0L319.0,113.5L318.6,113.0L318.4,112.5L318.3,112.0L318.4,111.5L318.5,111.0L318.7,110.5L319.0,110.0L319.5,109.4L319.9,109.0L320.6,108.5L321.5,108.0L322.5,107.6L325.0,106.8L327.5,106.2L330.0,105.9L332.5,105.8L335.0,105.9L338.5,106.1L343.0,106.8L348.5,107.4L357.0,108.2L360.5,108.3L363.5,108.2L368.5,107.8L374.0,106.9L381.0,106.2L388.0,105.8L390.0,105.9L392.5,106.1L394.5,106.4L396.5,106.9L398.0,107.5L399.0,108.0L399.8,108.5L400.4,109.0L401.0,109.7L401.5,110.5L401.8,111.5L401.9,112.0L401.8,112.5L401.6,113.0L401.3,113.5L400.8,114.0L400.1,114.5L399.5,114.8L398.5,115.2L397.5,115.5L395.0,116.0L391.5,116.4L388.0,116.5Z"/>
<path fill="#ffec00" d="M393.5,116.0L390.5,116.2L388.0,116.3L382.3,116.0L378.5,115.7L374.5,115.2L368.5,114.2L363.5,113.7L360.5,113.6L357.0,113.7L350.0,114.4L343.5,115.2L339.5,115.9L338.0,116.1L333.0,116.3L330.0,116.2L327.3,116.0L325.5,115.7L323.0,115.1L321.1,114.5L320.0,113.9L319.5,113.5L319.1,113.0L318.9,112.5L318.8,112.0L318.8,111.5L318.9,111.0L319.1,110.5L319.4,110.0L319.9,109.5L320.4,109.0L321.0,108.6L322.1,108.0L324.0,107.3L326.5,106.6L328.0,106.3L330.5,106.1L333.0,106.0L338.0,106.2L340.0,106.5L343.5,107.1L349.0,107.8L357.5,108.6L360.5,108.7L363.5,108.6L368.5,108.1L374.5,107.1L380.0,106.5L387.0,106.0L388.0,106.0L389.5,106.0L392.5,106.3L394.0,106.5L396.0,107.0L397.5,107.5L398.5,108.0L399.3,108.5L400.0,109.0L400.5,109.5L401.1,110.5L401.3,111.0L401.4,111.5L401.5,112.0L401.4,112.5L401.2,113.0L401.0,113.3L400.3,114.0L399.5,114.5L398.0,115.1L396.0,115.6L393.5,116.0Z"/>
<path fill="#ffd600" d="M391.0,116.0L388.0,116.2L384.0,115.9L380.5,115.7L374.5,114.9L368.5,113.9L363.5,113.3L360.5,113.1L357.5,113.3L349.0,114.2L343.5,114.9L340.0,115.6L338.0,115.9L333.0,116.2L330.0,116.0L327.5,115.8L325.5,115.5L323.4,115.0L321.9,114.5L321.0,114.1L320.5,113.8L320.1,113.5L319.7,113.0L319.4,112.5L319.2,112.0L319.2,111.5L319.3,111.0L319.6,110.5L319.9,110.0L320.3,109.5L320.9,109.0L321.5,108.6L322.7,108.0L324.1,107.5L325.5,107.1L327.5,106.6L330.0,106.3L332.5,106.2L335.0,106.2L338.5,106.5L343.5,107.4L349.5,108.2L358.0,109.1L360.5,109.2L363.0,109.1L368.5,108.4L374.0,107.4L379.5,106.8L382.1,106.5L386.0,106.2L388.0,106.1L389.5,106.2L392.0,106.4L393.5,106.6L395.2,107.0L396.8,107.5L398.0,108.0L398.9,108.5L399.5,109.0L400.0,109.5L400.4,110.0L400.7,110.5L400.9,111.0L401.0,111.5L401.0,112.0L400.9,112.5L400.7,113.0L400.3,113.5L399.7,114.0L398.5,114.7L397.5,115.0L396.0,115.4L394.0,115.8L391.0,116.0Z"/>
<path fill="#ffc000" d="M394.0,115.6L391.0,115.8L388.0,116.0L381.0,115.5L376.8,115.0L374.0,114.6L369.5,113.6L364.0,112.8L362.0,112.5L360.5,112.5L359.0,112.5L357.5,112.7L349.5,113.8L343.5,114.7L340.0,115.4L338.5,115.6L334.0,115.9L332.5,116.0L331.0,115.9L328.0,115.7L326.5,115.5L324.5,115.1L322.7,114.5L321.5,114.0L320.8,113.5L320.2,113.0L319.9,112.5L319.7,112.0L319.7,111.5L319.8,111.0L320.0,110.5L320.4,110.0L320.9,109.5L321.5,109.0L322.3,108.5L323.0,108.2L324.8,107.5L327.0,106.9L328.5,106.6L331.0,106.4L333.5,106.3L336.0,106.5L338.5,106.7L340.0,106.9L343.5,107.6L348.0,108.3L358.0,109.7L360.5,109.8L362.5,109.7L365.5,109.3L369.0,108.8L374.0,107.7L379.1,107.0L382.5,106.7L385.5,106.5L388.0,106.3L389.5,106.4L392.0,106.6L393.5,106.8L395.0,107.2L396.5,107.6L398.0,108.3L399.0,109.0L399.6,109.5L400.0,110.0L400.3,110.5L400.5,111.0L400.6,111.5L400.6,112.0L400.5,112.5L400.2,113.0L399.8,113.5L399.5,113.7L398.5,114.3L397.0,114.9L395.5,115.3L394.0,115.6Z"/>
<path fill="#ffab00" d="M337.5,115.5L333.5,115.8L331.5,115.8L327.5,115.4L325.2,115.0L323.5,114.5L322.3,114.0L321.4,113.5L321.0,113.2L320.5,112.5L320.3,112.0L320.2,111.5L320.3,111.0L320.5,110.5L320.9,110.0L321.5,109.4L322.1,109.0L323.0,108.5L324.5,107.9L326.0,107.4L328.0,106.9L331.0,106.6L333.0,106.5L336.5,106.7L339.5,107.0L343.0,107.8L353.2,109.5L355.6,110.0L357.5,110.5L358.7,111.0L358.3,111.5L356.8,112.0L354.7,112.5L343.5,114.4L339.5,115.3L337.5,115.5ZM392.5,115.5L389.5,115.8L387.5,115.8L381.5,115.3L378.5,115.0L376.0,114.6L372.6,114.0L369.5,113.2L366.1,112.5L364.1,112.0L362.6,111.5L362.3,111.0L363.4,110.5L365.2,110.0L369.0,109.2L371.7,108.5L374.0,108.0L377.1,107.5L381.1,107.0L388.0,106.5L390.0,106.6L392.5,106.9L394.0,107.1L395.4,107.5L396.8,108.0L397.8,108.5L398.6,109.0L399.1,109.5L399.6,110.0L399.9,110.5L400.1,111.0L400.2,111.5L400.2,112.0L400.0,112.5L399.7,113.0L399.2,113.5L398.5,114.0L398.0,114.2L396.5,114.8L394.5,115.3L392.5,115.5Z"/>
<path fill="#ff9500" d="M335.0,115.5L332.5,115.6L329.0,115.4L326.5,115.1L324.4,114.5L323.1,114.0L322.5,113.7L322.1,113.5L321.5,113.0L321.0,112.5L320.8,112.0L320.8,111.5L320.9,111.0L321.1,110.5L321.5,110.0L322.0,109.5L322.7,109.0L323.5,108.6L325.0,107.9L326.5,107.5L328.0,107.1L330.5,106.8L333.0,106.7L337.7,107.0L340.0,107.4L343.0,108.1L347.7,109.0L352.2,110.0L353.8,110.5L354.4,111.0L354.3,111.5L353.3,112.0L351.4,112.5L346.7,113.5L343.0,114.2L339.5,115.0L338.0,115.3L335.0,115.5ZM390.5,115.5L388.0,115.6L383.0,115.3L379.0,114.8L374.5,114.1L372.0,113.5L367.4,112.0L366.5,111.5L366.3,111.0L366.9,110.5L368.3,110.0L371.4,109.0L373.1,108.5L374.5,108.2L378.5,107.5L381.0,107.2L384.0,107.0L388.0,106.7L390.0,106.8L392.5,107.1L394.0,107.3L395.0,107.6L396.1,108.0L397.0,108.4L398.0,109.0L398.7,109.5L399.1,110.0L399.4,110.5L399.7,111.0L399.7,111.5L399.7,112.0L399.5,112.5L399.0,113.2L398.6,113.5L398.0,113.9L396.6,114.5L394.8,115.0L393.0,115.3L390.5,115.5Z"/>
<path fill="#ff8000" d="M338.0,115.1L335.0,115.3L332.5,115.4L330.5,115.3L328.5,115.1L327.5,115.0L326.0,114.7L325.2,114.5L323.9,114.0L322.9,113.5L322.1,113.0L321.7,112.5L321.4,112.0L321.3,111.5L321.4,111.0L321.6,110.5L322.0,110.0L322.6,109.5L323.4,109.0L324.0,108.7L325.6,108.0L327.2,107.5L328.5,107.3L331.0,107.0L333.0,106.9L336.5,107.1L338.5,107.3L339.6,107.5L343.0,108.4L347.7,109.5L349.4,110.0L350.6,110.5L351.2,111.0L351.1,111.5L350.2,112.0L348.8,112.5L347.0,113.0L343.0,113.9L340.5,114.6L339.0,114.9L338.0,115.1ZM393.0,115.1L390.5,115.3L388.0,115.4L382.4,115.0L378.0,114.4L374.0,113.7L371.9,113.0L370.7,112.5L369.8,112.0L369.2,111.5L369.1,111.0L369.5,110.5L370.3,110.0L371.3,109.5L372.7,109.0L374.6,108.5L378.5,107.8L382.5,107.3L388.0,106.9L390.2,107.0L393.0,107.4L394.0,107.6L395.4,108.0L396.6,108.5L397.5,109.0L398.1,109.5L398.6,110.0L399.0,110.6L399.2,111.0L399.3,111.5L399.2,112.0L399.0,112.5L398.6,113.0L398.0,113.5L397.1,114.0L395.7,114.5L394.5,114.8L393.0,115.1Z"/>
<path fill="#ff6a00" d="M336.0,115.0L333.0,115.2L331.5,115.2L328.0,114.8L326.0,114.5L324.5,113.9L323.6,113.5L322.8,113.0L322.3,112.5L322.0,112.0L321.9,111.5L322.0,111.0L322.2,110.5L322.5,110.2L323.2,109.5L324.0,109.0L325.0,108.5L326.3,108.0L327.5,107.7L328.5,107.5L331.0,107.2L333.0,107.1L335.5,107.2L338.0,107.5L340.0,107.8L343.0,108.7L345.8,109.5L347.3,110.0L348.3,110.5L348.7,111.0L348.6,111.5L347.9,112.0L346.7,112.5L339.8,114.5L338.5,114.8L336.0,115.0ZM391.5,115.0L388.0,115.2L386.0,115.1L381.0,114.6L377.2,114.0L374.0,113.3L373.2,113.0L372.0,112.5L371.2,112.0L370.8,111.5L370.7,111.0L371.0,110.5L371.7,110.0L372.7,109.5L374.1,109.0L376.2,108.5L378.9,108.0L382.0,107.6L388.0,107.1L390.0,107.2L392.5,107.5L393.5,107.7L394.6,108.0L395.9,108.5L396.9,109.0L397.6,109.5L398.1,110.0L398.5,110.5L398.7,111.0L398.8,111.5L398.7,112.0L398.5,112.5L398.0,113.0L397.3,113.5L396.3,114.0L394.8,114.5L393.5,114.8L391.5,115.0Z"/>
<path fill="#ff5400" d="M333.5,115.0L331.5,115.0L328.5,114.7L327.0,114.4L325.5,114.0L324.3,113.5L323.5,113.0L323.0,112.5L322.7,112.0L322.6,111.5L322.6,111.0L322.9,110.5L323.3,110.0L323.9,109.5L325.0,108.8L326.5,108.2L328.0,107.8L329.5,107.6L331.5,107.3L333.0,107.3L336.5,107.5L338.5,107.8L339.6,108.0L341.3,108.5L345.4,110.0L346.3,110.5L346.7,111.0L346.6,111.5L346.0,112.0L345.0,112.5L340.7,114.0L339.0,114.4L338.0,114.6L335.5,114.9L333.5,115.0ZM388.5,115.0L386.0,114.9L382.1,114.5L378.8,114.0L376.4,113.5L374.6,113.0L373.3,112.5L372.5,112.0L372.1,111.5L372.0,111.0L372.3,110.5L372.9,110.0L373.5,109.7L374.5,109.3L377.0,108.7L379.0,108.3L381.5,107.9L385.0,107.5L388.0,107.3L391.0,107.5L393.0,107.8L394.0,108.1L395.2,108.5L396.2,109.0L397.0,109.5L397.6,110.0L397.9,110.5L398.2,111.0L398.2,111.5L398.1,112.0L397.9,112.5L397.4,113.0L396.5,113.6L395.5,114.0L393.6,114.5L391.0,114.8L388.5,115.0Z"/>
<path fill="#ff3f00" d="M336.5,114.5L333.5,114.8L332.0,114.8L328.9,114.5L327.5,114.3L326.5,114.0L325.1,113.5L324.3,113.0L323.7,112.5L323.3,112.0L323.2,111.5L323.3,111.0L323.5,110.5L323.9,110.0L324.5,109.5L325.4,109.0L326.5,108.5L328.0,108.0L329.0,107.9L331.0,107.6L333.0,107.5L335.5,107.7L338.0,107.9L339.0,108.1L340.0,108.4L341.6,109.0L343.8,110.0L344.6,110.5L345.0,111.0L344.9,111.5L344.4,112.0L343.4,112.5L341.2,113.5L339.7,114.0L339.0,114.2L336.5,114.5ZM391.5,114.6L389.5,114.7L388.0,114.8L383.5,114.4L381.0,114.1L379.5,113.8L378.0,113.5L376.1,113.0L374.7,112.5L373.8,112.0L373.3,111.5L373.3,111.0L373.6,110.5L374.3,110.0L375.5,109.5L377.1,109.0L379.4,108.5L382.5,108.0L388.0,107.5L389.5,107.6L391.5,107.8L393.0,108.1L394.0,108.3L395.5,109.0L396.4,109.5L397.0,110.0L397.4,110.5L397.6,111.0L397.7,111.5L397.5,112.0L397.2,112.5L396.7,113.0L395.9,113.5L394.6,114.0L393.5,114.3L391.5,114.6Z"/>
<path fill="#ff2900" d="M334.5,114.5L333.0,114.6L331.0,114.5L328.0,114.1L326.5,113.7L325.9,113.5L325.0,113.0L324.4,112.5L324.0,112.0L323.9,111.5L323.9,111.0L324.2,110.5L324.6,110.0L325.2,109.5L326.1,109.0L327.0,108.6L328.0,108.3L329.7,108.0L331.5,107.8L333.0,107.7L336.5,108.0L338.5,108.3L339.5,108.5L340.7,109.0L341.8,109.5L342.6,110.0L343.2,110.5L343.5,111.0L343.4,111.5L343.0,112.0L342.3,112.5L341.4,113.0L340.3,113.5L338.5,114.0L334.5,114.5ZM389.5,114.5L388.0,114.6L385.5,114.4L382.3,114.0L379.5,113.5L377.6,113.0L376.2,112.5L375.2,112.0L374.7,111.5L374.6,111.0L375.0,110.5L375.7,110.0L376.9,109.5L378.7,109.0L381.0,108.5L382.5,108.3L384.7,108.0L388.0,107.7L389.5,107.8L391.0,108.0L392.5,108.2L393.6,108.5L394.9,109.0L395.7,109.5L396.4,110.0L396.8,110.5L397.0,111.0L397.0,111.5L396.9,112.0L396.5,112.6L396.0,113.0L395.5,113.3L394.5,113.7L393.5,114.0L391.5,114.3L389.5,114.5Z"/>
<path fill="#ff1400" d="M336.5,114.0L334.0,114.3L332.5,114.3L330.0,114.1L327.5,113.7L326.8,113.5L326.0,113.1L325.1,112.5L324.7,112.0L324.5,111.5L324.6,111.0L324.8,110.5L325.2,110.0L325.9,109.5L327.0,108.9L328.0,108.6L329.0,108.4L331.0,108.1L332.5,108.0L335.0,108.1L338.5,108.6L339.8,109.0L340.9,109.5L341.6,110.0L342.1,110.5L342.4,111.0L342.3,111.5L342.0,112.0L341.4,112.5L340.5,113.0L339.3,113.5L338.0,113.8L336.5,114.0ZM391.5,114.1L389.5,114.3L388.0,114.4L384.4,114.0L381.1,113.5L379.1,113.0L377.6,112.5L376.6,112.0L376.1,111.5L376.1,111.0L376.4,110.5L377.2,110.0L378.4,109.5L380.2,109.0L383.0,108.5L388.0,107.9L389.2,108.0L390.5,108.2L393.0,108.6L394.0,109.0L394.5,109.2L395.1,109.5L395.7,110.0L396.1,110.5L396.4,111.0L396.4,111.5L396.3,112.0L395.9,112.5L395.2,113.0L394.1,113.5L393.0,113.8L391.5,114.1Z"/>
<path fill="#fd0000" d="M334.5,114.0L333.0,114.1L331.1,114.0L329.0,113.7L327.5,113.4L326.6,113.0L325.8,112.5L325.4,112.0L325.2,111.5L325.2,111.0L325.5,110.5L325.9,110.0L326.6,109.5L327.5,109.1L328.5,108.8L329.9,108.5L332.5,108.2L333.5,108.2L335.5,108.4L338.5,108.9L340.0,109.5L340.8,110.0L341.2,110.5L341.5,111.0L341.4,111.5L341.1,112.0L340.5,112.5L339.6,113.0L338.0,113.5L334.5,114.0ZM389.5,114.0L388.0,114.1L386.5,114.0L383.0,113.5L380.6,113.0L379.1,112.5L378.1,112.0L377.5,111.5L377.5,111.0L377.8,110.5L378.6,110.0L379.9,109.5L380.5,109.3L381.9,109.0L384.0,108.7L388.0,108.2L390.5,108.4L393.0,108.9L394.3,109.5L395.1,110.0L395.5,110.5L395.7,111.0L395.8,111.5L395.6,112.0L395.2,112.5L394.5,112.9L394.0,113.2L392.9,113.5L391.0,113.8L389.5,114.0Z"/>
<path fill="#e70000" d="M336.0,113.5L334.0,113.8L332.5,113.8L330.0,113.6L328.0,113.1L327.5,113.0L326.6,112.5L326.1,112.0L325.9,111.5L325.9,111.0L326.2,110.5L326.6,110.0L327.5,109.5L328.5,109.1L329.5,108.9L331.0,108.6L332.5,108.5L333.5,108.5L335.0,108.6L337.0,108.9L338.0,109.2L339.0,109.5L339.5,109.7L339.9,110.0L340.4,110.5L340.6,111.0L340.6,111.5L340.2,112.0L339.6,112.5L338.5,113.0L336.0,113.5ZM391.0,113.5L389.5,113.7L388.0,113.8L385.1,113.5L382.3,113.0L380.6,112.5L379.5,112.0L379.0,111.5L378.9,111.0L379.2,110.5L380.1,110.0L381.5,109.5L383.8,109.0L388.0,108.5L390.0,108.6L392.5,109.2L393.5,109.5L394.3,110.0L394.8,110.5L395.1,111.0L395.1,111.5L394.9,112.0L394.3,112.5L393.4,113.0L391.0,113.5Z"/>
<path fill="#d20000" d="M333.5,113.5L332.5,113.5L331.0,113.4L329.0,113.0L328.0,112.7L327.5,112.5L326.9,112.0L326.6,111.5L326.7,111.0L326.9,110.5L327.5,110.0L328.6,109.5L330.6,109.0L332.0,108.8L333.0,108.8L335.3,109.0L338.0,109.6L339.0,110.0L339.5,110.5L339.8,111.0L339.7,111.5L339.4,112.0L338.5,112.5L336.5,113.1L335.0,113.3L333.5,113.5ZM388.5,113.5L387.5,113.5L385.0,113.1L384.3,113.0L382.2,112.5L381.0,112.0L380.4,111.5L380.3,111.0L380.7,110.5L381.5,110.1L383.0,109.6L386.0,109.0L388.0,108.8L389.0,108.8L390.3,109.0L392.3,109.5L393.5,110.0L394.0,110.5L394.3,111.0L394.3,111.5L394.0,112.0L393.4,112.5L391.5,113.1L390.0,113.4L388.5,113.5Z"/>
<path fill="#bc0000" d="M334.5,113.1L333.0,113.2L332.0,113.2L330.8,113.0L329.5,112.7L329.0,112.5L328.0,112.0L327.5,111.5L327.5,111.0L327.9,110.5L328.0,110.4L328.7,110.0L329.5,109.7L330.1,109.5L331.0,109.3L332.0,109.2L333.0,109.1L334.5,109.3L335.9,109.5L337.6,110.0L338.5,110.5L338.8,111.0L338.7,111.5L338.2,112.0L338.0,112.1L337.0,112.5L334.5,113.1ZM390.0,113.0L388.0,113.2L386.5,113.0L384.1,112.5L382.7,112.0L382.0,111.5L381.9,111.0L382.4,110.5L383.5,110.0L385.4,109.5L388.0,109.1L389.5,109.2L390.8,109.5L392.3,110.0L393.1,110.5L393.4,111.0L393.4,111.5L393.0,112.0L392.0,112.5L390.0,113.0Z"/>
<path fill="#a70000" d="M335.0,112.5L333.0,112.8L332.0,112.7L330.7,112.5L329.4,112.0L328.8,111.5L328.8,111.0L329.2,110.5L330.2,110.0L331.5,109.6L332.4,109.5L333.0,109.5L334.5,109.7L335.8,110.0L337.0,110.5L337.4,111.0L337.3,111.5L336.6,112.0L335.0,112.5ZM390.0,112.6L389.0,112.7L388.0,112.8L386.3,112.5L384.6,112.0L383.8,111.5L383.7,111.0L384.2,110.5L385.5,110.0L387.8,109.5L388.6,109.5L390.0,109.8L390.8,110.0L391.8,110.5L392.2,111.0L392.1,111.5L391.6,112.0L390.5,112.4L390.0,112.6Z"/>
<path fill="#910000" d="M334.5,112.0L333.0,112.3L332.5,112.3L331.5,112.1L331.2,112.0L330.4,111.5L330.3,111.0L330.8,110.5L332.0,110.1L333.0,110.0L334.0,110.2L335.0,110.5L335.6,111.0L335.5,111.5L334.5,112.0ZM389.5,112.1L388.0,112.3L386.8,112.0L385.9,111.5L385.7,111.0L386.3,110.5L387.8,110.0L388.5,110.0L389.0,110.1L390.1,110.5L390.7,111.0L390.6,111.5L390.0,111.9L389.5,112.1Z"/>
</g></g>
<g fill="none" stroke="#00001e" stroke-width="1.25" stroke-opacity="0.85">
<path d="M31.5,123.8H72.8L120.9,76.9L168.9,123.8H210.0M72.8,123.8H168.9"/>
</g>
<g fill="none" stroke="#00001e" stroke-width="1.1" stroke-opacity="0.8">
<path d="M272.4,122.5H295.7L316.8,101.3H404.3L425.4,122.5H448M295.7,122.5H425.4"/>
</g>
<g fill="none" stroke="#1c1c1c" stroke-width="1.35" stroke-opacity="0.68">
<path d="M31.7,0V8.8H211.2V0"/>
<path d="M122.4,8.8V6.3"/>
<rect x="31.0" y="53.9" width="179.0" height="145.1"/>
<path d="M73.2,53.9v3M73.2,199.0v-3M120.9,53.9v3M120.9,199.0v-3M167.6,53.9v3M167.6,199.0v-3M31,190.9h3.8M210.0,190.9h-3.8M31,181.3h3.8M210.0,181.3h-3.8M31,171.7h3.8M210.0,171.7h-3.8M31,162.1h3.8M210.0,162.1h-3.8M31,152.5h3.8M210.0,152.5h-3.8M31,142.8h3.8M210.0,142.8h-3.8M31,133.2h3.8M210.0,133.2h-3.8M31,123.6h3.8M210.0,123.6h-3.8M31,114.0h3.8M210.0,114.0h-3.8M31,104.5h3.8M210.0,104.5h-3.8M31,94.9h3.8M210.0,94.9h-3.8M31,85.4h3.8M210.0,85.4h-3.8M31,75.8h3.8M210.0,75.8h-3.8M31,66.2h3.8M210.0,66.2h-3.8M31,56.7h3.8M210.0,56.7h-3.8"/>
<path d="M273,0V7.9H448"/>
<path d="M291.6,7.9v-2.6M361.4,7.9v-2.6M430.6,7.9v-2.6"/>
<path d="M448,53.3H272.4V198.3H448"/>
<path d="M279.5,53.3v2.6M279.5,198.3v-2.6M360.8,53.3v2.6M360.8,198.3v-2.6M442.0,53.3v2.6M442.0,198.3v-2.6M272.4,188.0h3M448,188.0h-1.0M272.4,171.6h3M448,171.6h-1.0M272.4,155.2h3M448,155.2h-1.0M272.4,138.8h3M448,138.8h-1.0M272.4,122.4h3M448,122.4h-1.0M272.4,106.0h3M448,106.0h-1.0M272.4,89.6h3M448,89.6h-1.0M272.4,73.2h3M448,73.2h-1.0M272.4,56.8h3M448,56.8h-1.0"/>
<path d="M31.0,252V245.3H210.9V252"/>
<path d="M72.7,245.3v3M121,245.3v3M169,245.3v3M31,248.2h3M210.9,248.2h-3"/>
<path d="M272,252V245.4H448"/>
<path d="M278,245.4v3M360,245.4v3M441.6,245.4v3M272,248.2h3"/>
</g>
<g filter="url(#bX)">
<text transform="translate(17.3,4.7) scale(1.000,1)" font-size="17.5" text-anchor="middle">-7</text>
<text transform="translate(33.7,24.4) scale(1.000,1)" font-size="17.5" text-anchor="middle">-10</text>
<text transform="translate(122.7,22.6) scale(1.000,1)" font-size="17.5" text-anchor="middle">0</text>
<text transform="translate(209.1,24.2) scale(1.000,1)" font-size="17.5" text-anchor="middle">10</text>
<text transform="translate(128.5,41.3) scale(1.000,1)" font-size="17.0" text-anchor="middle" letter-spacing="0.15">X (nm)</text>
<text transform="translate(245.8,2.6) scale(1.000,1)" font-size="17.5" text-anchor="start">-50</text>
<text transform="translate(271.2,23.1) scale(1.000,1)" font-size="17.5" text-anchor="middle">-50</text>
<text transform="translate(361.5,23.1) scale(1.000,1)" font-size="17.5" text-anchor="middle">0</text>
<text transform="translate(434.8,24.4) scale(1.000,1)" font-size="17.5" text-anchor="start">50</text>
<text transform="translate(367.1,41.8) scale(1.000,1)" font-size="17.0" text-anchor="middle" letter-spacing="0.15">X (nm)</text>
<text transform="translate(22.6,62.5) scale(1.000,1)" font-size="17.5" text-anchor="middle">7</text>
<text transform="translate(24.9,130.4) scale(1.000,1)" font-size="17.5" text-anchor="middle">0</text>
<text transform="translate(17.3,199.0) scale(1.000,1)" font-size="17.5" text-anchor="middle">-7</text>
<text transform="translate(30.0,215.4) scale(1.000,1)" font-size="17.5" text-anchor="middle">-10</text>
<text transform="translate(122.8,214.8) scale(1.000,1)" font-size="17.5" text-anchor="middle">0</text>
<text transform="translate(205.6,215.4) scale(1.000,1)" font-size="17.5" text-anchor="middle">10</text>
<text transform="translate(128.6,232.7) scale(1.000,1)" font-size="17.0" text-anchor="middle" letter-spacing="0.15">X (nm)</text>
<text transform="translate(7.8,122.4) rotate(-90)" font-size="17.0" text-anchor="middle" letter-spacing="0.15">Y (nm)</text>
<text transform="translate(43.0,73.7)" font-size="17.0">E<tspan font-size="11.0" dy="3.9" dx="-0.8" letter-spacing="0.2">c1</tspan></text>
<text transform="translate(258.8,63.6) scale(1.000,1)" font-size="17.5" text-anchor="middle">40</text>
<text transform="translate(265.3,130.8) scale(1.000,1)" font-size="17.5" text-anchor="middle">0</text>
<text transform="translate(257.1,192.3) scale(1.000,1)" font-size="17.5" text-anchor="middle">-40</text>
<text transform="translate(273.2,215.0) scale(1.000,1)" font-size="17.5" text-anchor="middle">-50</text>
<text transform="translate(361.5,214.5) scale(1.000,1)" font-size="17.5" text-anchor="middle">0</text>
<text transform="translate(437.2,216.8) scale(1.000,1)" font-size="17.5" text-anchor="start">50</text>
<text transform="translate(367.1,232.7) scale(1.000,1)" font-size="17.0" text-anchor="middle" letter-spacing="0.15">X (nm)</text>
<text transform="translate(247.9,122.5) rotate(-90)" font-size="17.0" text-anchor="middle" letter-spacing="0.15">Y (nm)</text>
<text transform="translate(282.8,77.9)" font-size="17.0">E<tspan font-size="11.0" dy="3.9" dx="-0.8" letter-spacing="0.2">c1</tspan></text>
<text transform="translate(21.9,254.5) scale(1.000,1)" font-size="17.5" text-anchor="middle">7</text>
<text transform="translate(259.1,254.8) scale(1.000,1)" font-size="17.5" text-anchor="middle">40</text>
</g>
</svg></body></html>
